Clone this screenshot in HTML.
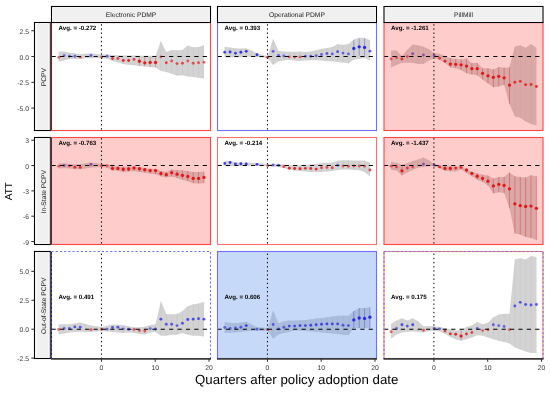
<!DOCTYPE html>
<html><head><meta charset="utf-8"><title>ATT event study</title><style>html,body{margin:0;padding:0;background:#fff;}svg{display:block;}</style></head><body>
<svg width="550" height="393" viewBox="0 0 550 393" text-rendering="geometricPrecision">
<rect x="0" y="0" width="550" height="393" fill="#FFFFFF"/>
<g>
<rect x="51.5" y="22.5" width="159.0" height="108.0" fill="#FFFFFF"/>
<polygon points="58.73,51.60 64.10,51.60 69.48,52.70 74.86,53.20 80.24,54.20 85.62,53.70 90.99,53.20 96.37,54.00 101.75,54.70 107.13,54.20 112.51,55.00 117.88,55.30 123.26,55.50 128.64,55.50 134.02,55.60 139.40,55.70 144.77,55.80 150.15,55.80 155.53,55.80 160.91,41.00 166.29,51.90 171.66,50.00 177.04,50.30 182.42,50.00 187.80,45.60 193.18,47.20 198.55,46.90 203.93,45.20 203.93,78.50 198.55,77.70 193.18,76.90 187.80,76.60 182.42,75.30 177.04,75.70 171.66,73.80 166.29,71.90 160.91,71.00 155.53,67.50 150.15,67.00 144.77,66.60 139.40,66.00 134.02,65.30 128.64,64.70 123.26,64.00 117.88,62.50 112.51,61.00 107.13,58.80 101.75,58.30 96.37,58.30 90.99,58.30 85.62,58.30 80.24,58.80 74.86,59.10 69.48,59.30 64.10,60.30 58.73,61.80" fill="rgba(110,110,110,0.30)"/>
<line x1="58.73" y1="51.60" x2="58.73" y2="61.80" stroke="rgba(0,0,0,0.035)" stroke-width="1"/>
<line x1="64.10" y1="51.60" x2="64.10" y2="60.30" stroke="rgba(0,0,0,0.035)" stroke-width="1"/>
<line x1="69.48" y1="52.70" x2="69.48" y2="59.30" stroke="rgba(0,0,0,0.035)" stroke-width="1"/>
<line x1="74.86" y1="53.20" x2="74.86" y2="59.10" stroke="rgba(0,0,0,0.035)" stroke-width="1"/>
<line x1="80.24" y1="54.20" x2="80.24" y2="58.80" stroke="rgba(0,0,0,0.035)" stroke-width="1"/>
<line x1="85.62" y1="53.70" x2="85.62" y2="58.30" stroke="rgba(0,0,0,0.035)" stroke-width="1"/>
<line x1="90.99" y1="53.20" x2="90.99" y2="58.30" stroke="rgba(0,0,0,0.035)" stroke-width="1"/>
<line x1="96.37" y1="54.00" x2="96.37" y2="58.30" stroke="rgba(0,0,0,0.035)" stroke-width="1"/>
<line x1="101.75" y1="54.70" x2="101.75" y2="58.30" stroke="rgba(0,0,0,0.035)" stroke-width="1"/>
<line x1="107.13" y1="54.20" x2="107.13" y2="58.80" stroke="rgba(0,0,0,0.035)" stroke-width="1"/>
<line x1="112.51" y1="55.00" x2="112.51" y2="61.00" stroke="rgba(0,0,0,0.035)" stroke-width="1"/>
<line x1="117.88" y1="55.30" x2="117.88" y2="62.50" stroke="rgba(0,0,0,0.035)" stroke-width="1"/>
<line x1="123.26" y1="55.50" x2="123.26" y2="64.00" stroke="rgba(0,0,0,0.035)" stroke-width="1"/>
<line x1="128.64" y1="55.50" x2="128.64" y2="64.70" stroke="rgba(0,0,0,0.035)" stroke-width="1"/>
<line x1="134.02" y1="55.60" x2="134.02" y2="65.30" stroke="rgba(0,0,0,0.035)" stroke-width="1"/>
<line x1="139.40" y1="55.70" x2="139.40" y2="66.00" stroke="rgba(0,0,0,0.035)" stroke-width="1"/>
<line x1="144.77" y1="55.80" x2="144.77" y2="66.60" stroke="rgba(0,0,0,0.035)" stroke-width="1"/>
<line x1="150.15" y1="55.80" x2="150.15" y2="67.00" stroke="rgba(0,0,0,0.035)" stroke-width="1"/>
<line x1="155.53" y1="55.80" x2="155.53" y2="67.50" stroke="rgba(0,0,0,0.035)" stroke-width="1"/>
<line x1="160.91" y1="41.00" x2="160.91" y2="71.00" stroke="rgba(0,0,0,0.035)" stroke-width="1"/>
<line x1="166.29" y1="51.90" x2="166.29" y2="71.90" stroke="rgba(0,0,0,0.035)" stroke-width="1"/>
<line x1="171.66" y1="50.00" x2="171.66" y2="73.80" stroke="rgba(0,0,0,0.035)" stroke-width="1"/>
<line x1="177.04" y1="50.30" x2="177.04" y2="75.70" stroke="rgba(0,0,0,0.035)" stroke-width="1"/>
<line x1="182.42" y1="50.00" x2="182.42" y2="75.30" stroke="rgba(0,0,0,0.035)" stroke-width="1"/>
<line x1="187.80" y1="45.60" x2="187.80" y2="76.60" stroke="rgba(0,0,0,0.035)" stroke-width="1"/>
<line x1="193.18" y1="47.20" x2="193.18" y2="76.90" stroke="rgba(0,0,0,0.035)" stroke-width="1"/>
<line x1="198.55" y1="46.90" x2="198.55" y2="77.70" stroke="rgba(0,0,0,0.035)" stroke-width="1"/>
<line x1="203.93" y1="45.20" x2="203.93" y2="78.50" stroke="rgba(0,0,0,0.035)" stroke-width="1"/>
<line x1="139.40" y1="57.30" x2="139.40" y2="65.52" stroke="rgba(228,26,28,0.35)" stroke-width="0.9"/>
<line x1="144.77" y1="57.30" x2="144.77" y2="66.22" stroke="rgba(228,26,28,0.35)" stroke-width="0.9"/>
<line x1="150.15" y1="57.30" x2="150.15" y2="66.54" stroke="rgba(228,26,28,0.35)" stroke-width="0.9"/>
<line x1="155.53" y1="57.30" x2="155.53" y2="67.00" stroke="rgba(228,26,28,0.35)" stroke-width="0.9"/>
<circle cx="58.73" cy="57.53" r="1.45" fill="rgb(228,26,28)" fill-opacity="0.62"/>
<circle cx="64.10" cy="55.67" r="1.45" fill="rgb(40,40,230)" fill-opacity="0.62"/>
<circle cx="69.48" cy="56.19" r="1.45" fill="rgb(40,40,230)" fill-opacity="0.62"/>
<circle cx="74.86" cy="56.29" r="1.45" fill="rgb(40,40,230)" fill-opacity="0.62"/>
<circle cx="80.24" cy="57.33" r="1.45" fill="rgb(228,26,28)" fill-opacity="0.6615304347826092"/>
<circle cx="90.99" cy="55.57" r="1.45" fill="rgb(40,40,230)" fill-opacity="0.6639058823529418"/>
<circle cx="101.75" cy="56.91" r="1.45" fill="rgb(228,26,28)" fill-opacity="0.62"/>
<circle cx="107.13" cy="56.29" r="1.45" fill="rgb(40,40,230)" fill-opacity="0.62"/>
<circle cx="112.51" cy="58.56" r="1.45" fill="rgb(228,26,28)" fill-opacity="0.8096000000000001"/>
<circle cx="117.88" cy="58.56" r="1.45" fill="rgb(228,26,28)" fill-opacity="0.7579999999999999"/>
<circle cx="123.26" cy="60.52" r="1.45" fill="rgb(228,26,28)" fill-opacity="0.92"/>
<circle cx="128.64" cy="60.52" r="1.45" fill="rgb(228,26,28)" fill-opacity="0.8937304347826085"/>
<circle cx="134.02" cy="59.39" r="1.45" fill="rgb(228,26,28)" fill-opacity="0.7681072164948457"/>
<circle cx="139.40" cy="61.25" r="1.65" fill="rgb(228,26,28)" fill-opacity="1.0"/>
<circle cx="144.77" cy="62.80" r="1.65" fill="rgb(228,26,28)" fill-opacity="1.0"/>
<circle cx="150.15" cy="62.38" r="1.65" fill="rgb(228,26,28)" fill-opacity="1.0"/>
<circle cx="155.53" cy="62.49" r="1.65" fill="rgb(228,26,28)" fill-opacity="1.0"/>
<circle cx="160.91" cy="56.91" r="1.45" fill="rgb(228,26,28)" fill-opacity="0.62"/>
<circle cx="166.29" cy="62.69" r="1.45" fill="rgb(228,26,28)" fill-opacity="0.7786399999999999"/>
<circle cx="171.66" cy="60.94" r="1.45" fill="rgb(228,26,28)" fill-opacity="0.6678084033613447"/>
<circle cx="177.04" cy="63.62" r="1.45" fill="rgb(228,26,28)" fill-opacity="0.7523118110236221"/>
<circle cx="182.42" cy="63.31" r="1.45" fill="rgb(228,26,28)" fill-opacity="0.742295652173913"/>
<circle cx="187.80" cy="60.94" r="1.45" fill="rgb(228,26,28)" fill-opacity="0.6288335483870969"/>
<circle cx="193.18" cy="63.21" r="1.45" fill="rgb(228,26,28)" fill-opacity="0.7032727272727273"/>
<circle cx="198.55" cy="62.69" r="1.45" fill="rgb(228,26,28)" fill-opacity="0.680935064935065"/>
<circle cx="203.93" cy="62.18" r="1.45" fill="rgb(228,26,28)" fill-opacity="0.6534054054054055"/>
<line x1="101.45" y1="22.5" x2="101.45" y2="130.5" stroke="#000" stroke-width="1.0" stroke-dasharray="1.4 2.76" stroke-dashoffset="2.46"/>
<line x1="51.5" y1="56.5" x2="210.5" y2="56.5" stroke="#000" stroke-width="1.1" stroke-dasharray="4.2 4.2"/>
<rect x="51.5" y="22.5" width="159.0" height="108.0" fill="none" stroke="#FF4646" stroke-width="1.1"/>
<text x="58.5" y="30.2" font-family="'Liberation Sans', Arial, Helvetica, sans-serif" font-weight="bold" font-size="6.2" fill="#000">Avg. = -0.272</text>
</g>
<g>
<rect x="217.5" y="22.5" width="159.0" height="108.0" fill="#FFFFFF"/>
<polygon points="224.73,46.70 230.10,47.50 235.48,48.20 240.86,48.60 246.24,48.20 251.62,50.40 256.99,53.30 262.37,55.00 267.75,55.90 273.13,38.70 278.51,51.10 283.88,51.50 289.26,51.80 294.64,51.70 300.02,51.60 305.40,51.90 310.77,51.60 316.15,50.30 321.53,48.80 326.91,48.00 332.29,46.90 337.66,44.10 343.04,44.90 348.42,44.10 353.80,39.40 359.18,37.80 364.55,37.80 369.93,40.20 369.93,60.50 364.55,58.10 359.18,58.90 353.80,59.70 348.42,63.60 343.04,62.50 337.66,62.00 332.29,61.30 326.91,61.30 321.53,60.50 316.15,60.20 310.77,60.20 305.40,60.50 300.02,61.00 294.64,60.50 289.26,59.80 283.88,60.50 278.51,61.30 273.13,64.90 267.75,58.40 262.37,57.60 256.99,56.90 251.62,56.90 246.24,56.50 240.86,57.30 235.48,57.30 230.10,57.60 224.73,57.60" fill="rgba(110,110,110,0.30)"/>
<line x1="224.73" y1="46.70" x2="224.73" y2="57.60" stroke="rgba(0,0,0,0.035)" stroke-width="1"/>
<line x1="230.10" y1="47.50" x2="230.10" y2="57.60" stroke="rgba(0,0,0,0.035)" stroke-width="1"/>
<line x1="235.48" y1="48.20" x2="235.48" y2="57.30" stroke="rgba(0,0,0,0.035)" stroke-width="1"/>
<line x1="240.86" y1="48.60" x2="240.86" y2="57.30" stroke="rgba(0,0,0,0.035)" stroke-width="1"/>
<line x1="246.24" y1="48.20" x2="246.24" y2="56.50" stroke="rgba(0,0,0,0.035)" stroke-width="1"/>
<line x1="251.62" y1="50.40" x2="251.62" y2="56.90" stroke="rgba(0,0,0,0.035)" stroke-width="1"/>
<line x1="256.99" y1="53.30" x2="256.99" y2="56.90" stroke="rgba(0,0,0,0.035)" stroke-width="1"/>
<line x1="262.37" y1="55.00" x2="262.37" y2="57.60" stroke="rgba(0,0,0,0.035)" stroke-width="1"/>
<line x1="267.75" y1="55.90" x2="267.75" y2="58.40" stroke="rgba(0,0,0,0.035)" stroke-width="1"/>
<line x1="273.13" y1="38.70" x2="273.13" y2="64.90" stroke="rgba(0,0,0,0.035)" stroke-width="1"/>
<line x1="278.51" y1="51.10" x2="278.51" y2="61.30" stroke="rgba(0,0,0,0.035)" stroke-width="1"/>
<line x1="283.88" y1="51.50" x2="283.88" y2="60.50" stroke="rgba(0,0,0,0.035)" stroke-width="1"/>
<line x1="289.26" y1="51.80" x2="289.26" y2="59.80" stroke="rgba(0,0,0,0.035)" stroke-width="1"/>
<line x1="294.64" y1="51.70" x2="294.64" y2="60.50" stroke="rgba(0,0,0,0.035)" stroke-width="1"/>
<line x1="300.02" y1="51.60" x2="300.02" y2="61.00" stroke="rgba(0,0,0,0.035)" stroke-width="1"/>
<line x1="305.40" y1="51.90" x2="305.40" y2="60.50" stroke="rgba(0,0,0,0.035)" stroke-width="1"/>
<line x1="310.77" y1="51.60" x2="310.77" y2="60.20" stroke="rgba(0,0,0,0.035)" stroke-width="1"/>
<line x1="316.15" y1="50.30" x2="316.15" y2="60.20" stroke="rgba(0,0,0,0.035)" stroke-width="1"/>
<line x1="321.53" y1="48.80" x2="321.53" y2="60.50" stroke="rgba(0,0,0,0.035)" stroke-width="1"/>
<line x1="326.91" y1="48.00" x2="326.91" y2="61.30" stroke="rgba(0,0,0,0.035)" stroke-width="1"/>
<line x1="332.29" y1="46.90" x2="332.29" y2="61.30" stroke="rgba(0,0,0,0.035)" stroke-width="1"/>
<line x1="337.66" y1="44.10" x2="337.66" y2="62.00" stroke="rgba(0,0,0,0.035)" stroke-width="1"/>
<line x1="343.04" y1="44.90" x2="343.04" y2="62.50" stroke="rgba(0,0,0,0.035)" stroke-width="1"/>
<line x1="348.42" y1="44.10" x2="348.42" y2="63.60" stroke="rgba(0,0,0,0.035)" stroke-width="1"/>
<line x1="353.80" y1="39.40" x2="353.80" y2="59.70" stroke="rgba(0,0,0,0.035)" stroke-width="1"/>
<line x1="359.18" y1="37.80" x2="359.18" y2="58.90" stroke="rgba(0,0,0,0.035)" stroke-width="1"/>
<line x1="364.55" y1="37.80" x2="364.55" y2="58.10" stroke="rgba(0,0,0,0.035)" stroke-width="1"/>
<line x1="369.93" y1="40.20" x2="369.93" y2="60.50" stroke="rgba(0,0,0,0.035)" stroke-width="1"/>
<line x1="353.80" y1="40.31" x2="353.80" y2="55.70" stroke="rgba(40,40,230,0.35)" stroke-width="0.9"/>
<line x1="359.18" y1="38.70" x2="359.18" y2="55.70" stroke="rgba(40,40,230,0.35)" stroke-width="0.9"/>
<line x1="364.55" y1="38.76" x2="364.55" y2="55.70" stroke="rgba(40,40,230,0.35)" stroke-width="0.9"/>
<circle cx="224.73" cy="52.27" r="1.45" fill="rgb(40,40,230)" fill-opacity="0.8493651376146791"/>
<circle cx="230.10" cy="52.06" r="1.45" fill="rgb(40,40,230)" fill-opacity="0.8954297029702973"/>
<circle cx="235.48" cy="53.30" r="1.45" fill="rgb(40,40,230)" fill-opacity="0.8164043956043956"/>
<circle cx="240.86" cy="52.27" r="1.45" fill="rgb(40,40,230)" fill-opacity="0.92"/>
<circle cx="246.24" cy="51.34" r="1.45" fill="rgb(40,40,230)" fill-opacity="0.92"/>
<circle cx="256.99" cy="54.75" r="1.45" fill="rgb(40,40,230)" fill-opacity="0.92"/>
<circle cx="267.75" cy="57.22" r="1.45" fill="rgb(228,26,28)" fill-opacity="0.7600640000000001"/>
<circle cx="273.13" cy="51.34" r="1.45" fill="rgb(40,40,230)" fill-opacity="0.6772519083969464"/>
<circle cx="278.51" cy="55.47" r="1.45" fill="rgb(40,40,230)" fill-opacity="0.62"/>
<circle cx="283.88" cy="55.88" r="1.45" fill="rgb(40,40,230)" fill-opacity="0.62"/>
<circle cx="289.26" cy="56.91" r="1.45" fill="rgb(228,26,28)" fill-opacity="0.62"/>
<circle cx="294.64" cy="57.12" r="1.45" fill="rgb(228,26,28)" fill-opacity="0.62"/>
<circle cx="300.02" cy="56.91" r="1.45" fill="rgb(228,26,28)" fill-opacity="0.62"/>
<circle cx="305.40" cy="56.29" r="1.45" fill="rgb(40,40,230)" fill-opacity="0.62"/>
<circle cx="310.77" cy="56.29" r="1.45" fill="rgb(40,40,230)" fill-opacity="0.62"/>
<circle cx="316.15" cy="55.78" r="1.45" fill="rgb(40,40,230)" fill-opacity="0.62"/>
<circle cx="321.53" cy="54.54" r="1.45" fill="rgb(40,40,230)" fill-opacity="0.6508307692307691"/>
<circle cx="326.91" cy="53.51" r="1.45" fill="rgb(40,40,230)" fill-opacity="0.7025203007518799"/>
<circle cx="332.29" cy="53.92" r="1.45" fill="rgb(40,40,230)" fill-opacity="0.6612499999999999"/>
<circle cx="337.66" cy="51.65" r="1.45" fill="rgb(40,40,230)" fill-opacity="0.7438748603351956"/>
<circle cx="343.04" cy="53.09" r="1.45" fill="rgb(40,40,230)" fill-opacity="0.67415"/>
<circle cx="348.42" cy="53.92" r="1.45" fill="rgb(40,40,230)" fill-opacity="0.62"/>
<circle cx="353.80" cy="48.45" r="1.65" fill="rgb(40,40,230)" fill-opacity="1.0"/>
<circle cx="359.18" cy="46.80" r="1.65" fill="rgb(40,40,230)" fill-opacity="1.0"/>
<circle cx="364.55" cy="47.42" r="1.65" fill="rgb(40,40,230)" fill-opacity="1.0"/>
<circle cx="369.93" cy="51.13" r="1.45" fill="rgb(40,40,230)" fill-opacity="0.7379192118226601"/>
<line x1="267.45" y1="22.5" x2="267.45" y2="130.5" stroke="#000" stroke-width="1.0" stroke-dasharray="1.4 2.76" stroke-dashoffset="2.46"/>
<line x1="217.5" y1="56.5" x2="376.5" y2="56.5" stroke="#000" stroke-width="1.1" stroke-dasharray="4.2 4.2"/>
<rect x="217.5" y="22.5" width="159.0" height="108.0" fill="none" stroke="#7070FF" stroke-width="1.1"/>
<text x="224.5" y="30.2" font-family="'Liberation Sans', Arial, Helvetica, sans-serif" font-weight="bold" font-size="6.2" fill="#000">Avg. = 0.393</text>
</g>
<g>
<rect x="384.0" y="22.5" width="159.0" height="108.0" fill="#FFFFFF"/>
<polygon points="391.18,50.60 396.55,50.60 401.93,56.00 407.31,49.80 412.69,44.50 418.07,45.30 423.44,46.80 428.82,49.10 434.20,52.90 439.58,53.70 444.96,56.00 450.33,58.20 455.71,59.00 461.09,59.50 466.47,58.50 471.85,63.10 477.22,63.10 482.60,68.20 487.98,68.20 493.36,69.40 498.74,66.90 504.11,67.70 509.49,67.30 514.87,46.50 520.25,45.30 525.63,47.80 531.00,44.00 536.38,47.80 536.38,125.40 531.00,124.10 525.63,121.60 520.25,117.80 514.87,116.50 509.49,104.00 504.11,84.70 498.74,86.50 493.36,87.30 487.98,83.40 482.60,79.60 477.22,75.30 471.85,74.50 466.47,73.30 461.09,70.00 455.71,68.20 450.33,67.40 444.96,62.80 439.58,59.80 434.20,58.20 428.82,60.50 423.44,63.90 418.07,63.90 412.69,62.80 407.31,62.80 401.93,62.80 396.55,65.10 391.18,67.40" fill="rgba(110,110,110,0.30)"/>
<line x1="391.18" y1="50.60" x2="391.18" y2="67.40" stroke="rgba(0,0,0,0.035)" stroke-width="1"/>
<line x1="396.55" y1="50.60" x2="396.55" y2="65.10" stroke="rgba(0,0,0,0.035)" stroke-width="1"/>
<line x1="401.93" y1="56.00" x2="401.93" y2="62.80" stroke="rgba(0,0,0,0.035)" stroke-width="1"/>
<line x1="407.31" y1="49.80" x2="407.31" y2="62.80" stroke="rgba(0,0,0,0.035)" stroke-width="1"/>
<line x1="412.69" y1="44.50" x2="412.69" y2="62.80" stroke="rgba(0,0,0,0.035)" stroke-width="1"/>
<line x1="418.07" y1="45.30" x2="418.07" y2="63.90" stroke="rgba(0,0,0,0.035)" stroke-width="1"/>
<line x1="423.44" y1="46.80" x2="423.44" y2="63.90" stroke="rgba(0,0,0,0.035)" stroke-width="1"/>
<line x1="428.82" y1="49.10" x2="428.82" y2="60.50" stroke="rgba(0,0,0,0.035)" stroke-width="1"/>
<line x1="434.20" y1="52.90" x2="434.20" y2="58.20" stroke="rgba(0,0,0,0.035)" stroke-width="1"/>
<line x1="439.58" y1="53.70" x2="439.58" y2="59.80" stroke="rgba(0,0,0,0.035)" stroke-width="1"/>
<line x1="444.96" y1="56.00" x2="444.96" y2="62.80" stroke="rgba(0,0,0,0.035)" stroke-width="1"/>
<line x1="450.33" y1="58.20" x2="450.33" y2="67.40" stroke="rgba(0,0,0,0.035)" stroke-width="1"/>
<line x1="455.71" y1="59.00" x2="455.71" y2="68.20" stroke="rgba(0,0,0,0.035)" stroke-width="1"/>
<line x1="461.09" y1="59.50" x2="461.09" y2="70.00" stroke="rgba(0,0,0,0.035)" stroke-width="1"/>
<line x1="466.47" y1="58.50" x2="466.47" y2="73.30" stroke="rgba(0,0,0,0.035)" stroke-width="1"/>
<line x1="471.85" y1="63.10" x2="471.85" y2="74.50" stroke="rgba(0,0,0,0.035)" stroke-width="1"/>
<line x1="477.22" y1="63.10" x2="477.22" y2="75.30" stroke="rgba(0,0,0,0.035)" stroke-width="1"/>
<line x1="482.60" y1="68.20" x2="482.60" y2="79.60" stroke="rgba(0,0,0,0.035)" stroke-width="1"/>
<line x1="487.98" y1="68.20" x2="487.98" y2="83.40" stroke="rgba(0,0,0,0.035)" stroke-width="1"/>
<line x1="493.36" y1="69.40" x2="493.36" y2="87.30" stroke="rgba(0,0,0,0.035)" stroke-width="1"/>
<line x1="498.74" y1="66.90" x2="498.74" y2="86.50" stroke="rgba(0,0,0,0.035)" stroke-width="1"/>
<line x1="504.11" y1="67.70" x2="504.11" y2="84.70" stroke="rgba(0,0,0,0.035)" stroke-width="1"/>
<line x1="509.49" y1="67.30" x2="509.49" y2="104.00" stroke="rgba(0,0,0,0.035)" stroke-width="1"/>
<line x1="514.87" y1="46.50" x2="514.87" y2="116.50" stroke="rgba(0,0,0,0.035)" stroke-width="1"/>
<line x1="520.25" y1="45.30" x2="520.25" y2="117.80" stroke="rgba(0,0,0,0.035)" stroke-width="1"/>
<line x1="525.63" y1="47.80" x2="525.63" y2="121.60" stroke="rgba(0,0,0,0.035)" stroke-width="1"/>
<line x1="531.00" y1="44.00" x2="531.00" y2="124.10" stroke="rgba(0,0,0,0.035)" stroke-width="1"/>
<line x1="536.38" y1="47.80" x2="536.38" y2="125.40" stroke="rgba(0,0,0,0.035)" stroke-width="1"/>
<line x1="450.33" y1="58.20" x2="450.33" y2="67.40" stroke="rgba(228,26,28,0.35)" stroke-width="0.9"/>
<line x1="455.71" y1="59.00" x2="455.71" y2="68.20" stroke="rgba(228,26,28,0.35)" stroke-width="0.9"/>
<line x1="461.09" y1="59.50" x2="461.09" y2="70.00" stroke="rgba(228,26,28,0.35)" stroke-width="0.9"/>
<line x1="466.47" y1="58.50" x2="466.47" y2="73.30" stroke="rgba(228,26,28,0.35)" stroke-width="0.9"/>
<line x1="471.85" y1="63.10" x2="471.85" y2="74.50" stroke="rgba(228,26,28,0.35)" stroke-width="0.9"/>
<line x1="477.22" y1="63.10" x2="477.22" y2="75.30" stroke="rgba(228,26,28,0.35)" stroke-width="0.9"/>
<line x1="482.60" y1="68.20" x2="482.60" y2="79.60" stroke="rgba(228,26,28,0.35)" stroke-width="0.9"/>
<line x1="487.98" y1="68.20" x2="487.98" y2="83.40" stroke="rgba(228,26,28,0.35)" stroke-width="0.9"/>
<line x1="493.36" y1="69.40" x2="493.36" y2="87.30" stroke="rgba(228,26,28,0.35)" stroke-width="0.9"/>
<line x1="498.74" y1="66.90" x2="498.74" y2="86.50" stroke="rgba(228,26,28,0.35)" stroke-width="0.9"/>
<line x1="504.11" y1="67.70" x2="504.11" y2="84.70" stroke="rgba(228,26,28,0.35)" stroke-width="0.9"/>
<line x1="509.49" y1="67.30" x2="509.49" y2="104.00" stroke="rgba(228,26,28,0.35)" stroke-width="0.9"/>
<circle cx="391.18" cy="58.98" r="1.45" fill="rgb(228,26,28)" fill-opacity="0.6326857142857141"/>
<circle cx="396.55" cy="57.53" r="1.45" fill="rgb(228,26,28)" fill-opacity="0.62"/>
<circle cx="401.93" cy="58.98" r="1.45" fill="rgb(228,26,28)" fill-opacity="0.8278117647058821"/>
<circle cx="407.31" cy="56.60" r="1.45" fill="rgb(228,26,28)" fill-opacity="0.62"/>
<circle cx="412.69" cy="53.71" r="1.45" fill="rgb(40,40,230)" fill-opacity="0.6370360655737706"/>
<circle cx="423.44" cy="54.95" r="1.45" fill="rgb(40,40,230)" fill-opacity="0.62"/>
<circle cx="434.20" cy="55.67" r="1.45" fill="rgb(40,40,230)" fill-opacity="0.6401962264150944"/>
<circle cx="439.58" cy="58.25" r="1.45" fill="rgb(228,26,28)" fill-opacity="0.7588459016393441"/>
<circle cx="444.96" cy="61.14" r="1.45" fill="rgb(228,26,28)" fill-opacity="0.92"/>
<circle cx="450.33" cy="64.03" r="1.65" fill="rgb(228,26,28)" fill-opacity="1.0"/>
<circle cx="455.71" cy="64.34" r="1.65" fill="rgb(228,26,28)" fill-opacity="1.0"/>
<circle cx="461.09" cy="64.86" r="1.65" fill="rgb(228,26,28)" fill-opacity="1.0"/>
<circle cx="466.47" cy="66.10" r="1.65" fill="rgb(228,26,28)" fill-opacity="1.0"/>
<circle cx="471.85" cy="68.68" r="1.65" fill="rgb(228,26,28)" fill-opacity="1.0"/>
<circle cx="477.22" cy="68.68" r="1.65" fill="rgb(228,26,28)" fill-opacity="1.0"/>
<circle cx="482.60" cy="73.32" r="1.65" fill="rgb(228,26,28)" fill-opacity="1.0"/>
<circle cx="487.98" cy="75.80" r="1.65" fill="rgb(228,26,28)" fill-opacity="1.0"/>
<circle cx="493.36" cy="77.35" r="1.65" fill="rgb(228,26,28)" fill-opacity="1.0"/>
<circle cx="498.74" cy="76.31" r="1.65" fill="rgb(228,26,28)" fill-opacity="1.0"/>
<circle cx="504.11" cy="77.86" r="1.65" fill="rgb(228,26,28)" fill-opacity="1.0"/>
<circle cx="509.49" cy="85.09" r="1.65" fill="rgb(228,26,28)" fill-opacity="1.0"/>
<circle cx="514.87" cy="82.30" r="1.45" fill="rgb(228,26,28)" fill-opacity="0.8317142857142856"/>
<circle cx="520.25" cy="81.37" r="1.45" fill="rgb(228,26,28)" fill-opacity="0.8087459310344828"/>
<circle cx="525.63" cy="84.67" r="1.45" fill="rgb(228,26,28)" fill-opacity="0.843580487804878"/>
<circle cx="531.00" cy="84.47" r="1.45" fill="rgb(228,26,28)" fill-opacity="0.814238202247191"/>
<circle cx="536.38" cy="86.43" r="1.45" fill="rgb(228,26,28)" fill-opacity="0.847103092783505"/>
<rect x="384.0" y="22.5" width="159.0" height="108.0" fill="rgb(255,0,0)" fill-opacity="0.2"/>
<line x1="433.9" y1="22.5" x2="433.9" y2="130.5" stroke="#000" stroke-width="1.0" stroke-dasharray="1.4 2.76" stroke-dashoffset="2.46"/>
<line x1="384.0" y1="56.5" x2="543.0" y2="56.5" stroke="#000" stroke-width="1.1" stroke-dasharray="4.2 4.2"/>
<rect x="384.0" y="22.5" width="159.0" height="108.0" fill="none" stroke="#FF4646" stroke-width="1.1"/>
<text x="391.0" y="30.2" font-family="'Liberation Sans', Arial, Helvetica, sans-serif" font-weight="bold" font-size="6.2" fill="#000">Avg. = -1.261</text>
</g>
<g>
<rect x="51.5" y="137.5" width="159.0" height="107.0" fill="#FFFFFF"/>
<polygon points="58.73,163.20 64.10,163.20 69.48,164.00 74.86,164.30 80.24,164.00 85.62,163.20 90.99,162.40 96.37,163.20 101.75,164.00 107.13,164.30 112.51,166.20 117.88,166.20 123.26,166.70 128.64,166.60 134.02,166.40 139.40,167.20 144.77,168.00 150.15,168.80 155.53,168.80 160.91,171.10 166.29,171.90 171.66,169.50 177.04,170.30 182.42,170.30 187.80,171.10 193.18,171.90 198.55,171.90 203.93,171.60 203.93,183.20 198.55,183.60 193.18,183.20 187.80,181.30 182.42,179.70 177.04,178.10 171.66,176.60 166.29,177.40 160.91,176.30 155.53,174.20 150.15,173.50 144.77,172.70 139.40,171.90 134.02,171.10 128.64,171.60 123.26,171.90 117.88,170.80 112.51,170.40 107.13,167.80 101.75,167.30 96.37,167.30 90.99,167.80 85.62,168.50 80.24,169.30 74.86,169.30 69.48,168.50 64.10,168.30 58.73,168.50" fill="rgba(110,110,110,0.30)"/>
<line x1="58.73" y1="163.20" x2="58.73" y2="168.50" stroke="rgba(0,0,0,0.035)" stroke-width="1"/>
<line x1="64.10" y1="163.20" x2="64.10" y2="168.30" stroke="rgba(0,0,0,0.035)" stroke-width="1"/>
<line x1="69.48" y1="164.00" x2="69.48" y2="168.50" stroke="rgba(0,0,0,0.035)" stroke-width="1"/>
<line x1="74.86" y1="164.30" x2="74.86" y2="169.30" stroke="rgba(0,0,0,0.035)" stroke-width="1"/>
<line x1="80.24" y1="164.00" x2="80.24" y2="169.30" stroke="rgba(0,0,0,0.035)" stroke-width="1"/>
<line x1="85.62" y1="163.20" x2="85.62" y2="168.50" stroke="rgba(0,0,0,0.035)" stroke-width="1"/>
<line x1="90.99" y1="162.40" x2="90.99" y2="167.80" stroke="rgba(0,0,0,0.035)" stroke-width="1"/>
<line x1="96.37" y1="163.20" x2="96.37" y2="167.30" stroke="rgba(0,0,0,0.035)" stroke-width="1"/>
<line x1="101.75" y1="164.00" x2="101.75" y2="167.30" stroke="rgba(0,0,0,0.035)" stroke-width="1"/>
<line x1="107.13" y1="164.30" x2="107.13" y2="167.80" stroke="rgba(0,0,0,0.035)" stroke-width="1"/>
<line x1="112.51" y1="166.20" x2="112.51" y2="170.40" stroke="rgba(0,0,0,0.035)" stroke-width="1"/>
<line x1="117.88" y1="166.20" x2="117.88" y2="170.80" stroke="rgba(0,0,0,0.035)" stroke-width="1"/>
<line x1="123.26" y1="166.70" x2="123.26" y2="171.90" stroke="rgba(0,0,0,0.035)" stroke-width="1"/>
<line x1="128.64" y1="166.60" x2="128.64" y2="171.60" stroke="rgba(0,0,0,0.035)" stroke-width="1"/>
<line x1="134.02" y1="166.40" x2="134.02" y2="171.10" stroke="rgba(0,0,0,0.035)" stroke-width="1"/>
<line x1="139.40" y1="167.20" x2="139.40" y2="171.90" stroke="rgba(0,0,0,0.035)" stroke-width="1"/>
<line x1="144.77" y1="168.00" x2="144.77" y2="172.70" stroke="rgba(0,0,0,0.035)" stroke-width="1"/>
<line x1="150.15" y1="168.80" x2="150.15" y2="173.50" stroke="rgba(0,0,0,0.035)" stroke-width="1"/>
<line x1="155.53" y1="168.80" x2="155.53" y2="174.20" stroke="rgba(0,0,0,0.035)" stroke-width="1"/>
<line x1="160.91" y1="171.10" x2="160.91" y2="176.30" stroke="rgba(0,0,0,0.035)" stroke-width="1"/>
<line x1="166.29" y1="171.90" x2="166.29" y2="177.40" stroke="rgba(0,0,0,0.035)" stroke-width="1"/>
<line x1="171.66" y1="169.50" x2="171.66" y2="176.60" stroke="rgba(0,0,0,0.035)" stroke-width="1"/>
<line x1="177.04" y1="170.30" x2="177.04" y2="178.10" stroke="rgba(0,0,0,0.035)" stroke-width="1"/>
<line x1="182.42" y1="170.30" x2="182.42" y2="179.70" stroke="rgba(0,0,0,0.035)" stroke-width="1"/>
<line x1="187.80" y1="171.10" x2="187.80" y2="181.30" stroke="rgba(0,0,0,0.035)" stroke-width="1"/>
<line x1="193.18" y1="171.90" x2="193.18" y2="183.20" stroke="rgba(0,0,0,0.035)" stroke-width="1"/>
<line x1="198.55" y1="171.90" x2="198.55" y2="183.60" stroke="rgba(0,0,0,0.035)" stroke-width="1"/>
<line x1="203.93" y1="171.60" x2="203.93" y2="183.20" stroke="rgba(0,0,0,0.035)" stroke-width="1"/>
<line x1="112.51" y1="166.35" x2="112.51" y2="170.40" stroke="rgba(228,26,28,0.35)" stroke-width="0.9"/>
<line x1="117.88" y1="166.35" x2="117.88" y2="170.80" stroke="rgba(228,26,28,0.35)" stroke-width="0.9"/>
<line x1="123.26" y1="166.70" x2="123.26" y2="171.90" stroke="rgba(228,26,28,0.35)" stroke-width="0.9"/>
<line x1="128.64" y1="166.60" x2="128.64" y2="171.60" stroke="rgba(228,26,28,0.35)" stroke-width="0.9"/>
<line x1="134.02" y1="166.40" x2="134.02" y2="171.10" stroke="rgba(228,26,28,0.35)" stroke-width="0.9"/>
<line x1="139.40" y1="167.20" x2="139.40" y2="171.90" stroke="rgba(228,26,28,0.35)" stroke-width="0.9"/>
<line x1="144.77" y1="168.00" x2="144.77" y2="172.70" stroke="rgba(228,26,28,0.35)" stroke-width="0.9"/>
<line x1="150.15" y1="168.80" x2="150.15" y2="173.50" stroke="rgba(228,26,28,0.35)" stroke-width="0.9"/>
<line x1="155.53" y1="168.80" x2="155.53" y2="174.20" stroke="rgba(228,26,28,0.35)" stroke-width="0.9"/>
<line x1="160.91" y1="171.10" x2="160.91" y2="176.30" stroke="rgba(228,26,28,0.35)" stroke-width="0.9"/>
<line x1="166.29" y1="171.90" x2="166.29" y2="177.40" stroke="rgba(228,26,28,0.35)" stroke-width="0.9"/>
<line x1="171.66" y1="169.50" x2="171.66" y2="176.60" stroke="rgba(228,26,28,0.35)" stroke-width="0.9"/>
<line x1="177.04" y1="170.30" x2="177.04" y2="178.10" stroke="rgba(228,26,28,0.35)" stroke-width="0.9"/>
<line x1="182.42" y1="170.30" x2="182.42" y2="179.70" stroke="rgba(228,26,28,0.35)" stroke-width="0.9"/>
<line x1="187.80" y1="171.10" x2="187.80" y2="181.30" stroke="rgba(228,26,28,0.35)" stroke-width="0.9"/>
<line x1="193.18" y1="171.90" x2="193.18" y2="183.20" stroke="rgba(228,26,28,0.35)" stroke-width="0.9"/>
<line x1="198.55" y1="171.90" x2="198.55" y2="183.60" stroke="rgba(228,26,28,0.35)" stroke-width="0.9"/>
<line x1="203.93" y1="171.60" x2="203.93" y2="183.20" stroke="rgba(228,26,28,0.35)" stroke-width="0.9"/>
<circle cx="58.73" cy="166.14" r="1.45" fill="rgb(228,26,28)" fill-opacity="0.62"/>
<circle cx="64.10" cy="165.47" r="1.45" fill="rgb(40,40,230)" fill-opacity="0.62"/>
<circle cx="69.48" cy="165.89" r="1.45" fill="rgb(228,26,28)" fill-opacity="0.62"/>
<circle cx="74.86" cy="167.32" r="1.45" fill="rgb(228,26,28)" fill-opacity="0.8190320000000009"/>
<circle cx="80.24" cy="167.41" r="1.45" fill="rgb(228,26,28)" fill-opacity="0.8153056603773565"/>
<circle cx="90.99" cy="164.37" r="1.45" fill="rgb(40,40,230)" fill-opacity="0.6969333333333336"/>
<circle cx="101.75" cy="165.72" r="1.45" fill="rgb(228,26,28)" fill-opacity="0.62"/>
<circle cx="107.13" cy="165.72" r="1.45" fill="rgb(228,26,28)" fill-opacity="0.62"/>
<circle cx="112.51" cy="168.42" r="1.65" fill="rgb(228,26,28)" fill-opacity="1.0"/>
<circle cx="117.88" cy="168.42" r="1.65" fill="rgb(228,26,28)" fill-opacity="1.0"/>
<circle cx="123.26" cy="169.26" r="1.65" fill="rgb(228,26,28)" fill-opacity="1.0"/>
<circle cx="128.64" cy="169.01" r="1.65" fill="rgb(228,26,28)" fill-opacity="1.0"/>
<circle cx="134.02" cy="167.91" r="1.65" fill="rgb(228,26,28)" fill-opacity="1.0"/>
<circle cx="139.40" cy="168.76" r="1.65" fill="rgb(228,26,28)" fill-opacity="1.0"/>
<circle cx="144.77" cy="169.69" r="1.65" fill="rgb(228,26,28)" fill-opacity="1.0"/>
<circle cx="150.15" cy="170.61" r="1.65" fill="rgb(228,26,28)" fill-opacity="1.0"/>
<circle cx="155.53" cy="170.61" r="1.65" fill="rgb(228,26,28)" fill-opacity="1.0"/>
<circle cx="160.91" cy="173.48" r="1.65" fill="rgb(228,26,28)" fill-opacity="1.0"/>
<circle cx="166.29" cy="174.67" r="1.65" fill="rgb(228,26,28)" fill-opacity="1.0"/>
<circle cx="171.66" cy="172.72" r="1.65" fill="rgb(228,26,28)" fill-opacity="1.0"/>
<circle cx="177.04" cy="174.16" r="1.65" fill="rgb(228,26,28)" fill-opacity="1.0"/>
<circle cx="182.42" cy="175.42" r="1.65" fill="rgb(228,26,28)" fill-opacity="1.0"/>
<circle cx="187.80" cy="176.52" r="1.65" fill="rgb(228,26,28)" fill-opacity="1.0"/>
<circle cx="193.18" cy="178.46" r="1.65" fill="rgb(228,26,28)" fill-opacity="1.0"/>
<circle cx="198.55" cy="178.46" r="1.65" fill="rgb(228,26,28)" fill-opacity="1.0"/>
<circle cx="203.93" cy="177.45" r="1.65" fill="rgb(228,26,28)" fill-opacity="1.0"/>
<rect x="51.5" y="137.5" width="159.0" height="107.0" fill="rgb(255,0,0)" fill-opacity="0.2"/>
<line x1="101.45" y1="137.5" x2="101.45" y2="244.5" stroke="#000" stroke-width="1.0" stroke-dasharray="1.4 2.76" stroke-dashoffset="3.56"/>
<line x1="51.5" y1="165.55" x2="210.5" y2="165.55" stroke="#000" stroke-width="1.1" stroke-dasharray="4.2 4.2"/>
<rect x="51.5" y="137.5" width="159.0" height="107.0" fill="none" stroke="#FF4646" stroke-width="1.1"/>
<text x="58.5" y="145.2" font-family="'Liberation Sans', Arial, Helvetica, sans-serif" font-weight="bold" font-size="6.2" fill="#000">Avg. = -0.763</text>
</g>
<g>
<rect x="217.5" y="137.5" width="159.0" height="107.0" fill="#FFFFFF"/>
<polygon points="224.73,160.90 230.10,160.90 235.48,162.40 240.86,162.50 246.24,162.50 251.62,162.70 256.99,162.90 262.37,163.60 267.75,164.30 273.13,164.10 278.51,164.00 283.88,164.60 289.26,165.20 294.64,165.30 300.02,165.30 305.40,164.80 310.77,164.40 316.15,163.80 321.53,163.30 326.91,162.90 332.29,162.50 337.66,160.60 343.04,160.20 348.42,160.20 353.80,160.60 359.18,160.60 364.55,160.60 369.93,162.50 369.93,176.60 364.55,171.90 359.18,170.30 353.80,170.00 348.42,169.50 343.04,169.50 337.66,170.00 332.29,171.10 326.91,171.50 321.53,171.90 316.15,171.90 310.77,171.90 305.40,171.50 300.02,171.10 294.64,170.50 289.26,169.30 283.88,168.20 278.51,167.00 273.13,166.60 267.75,166.20 262.37,165.90 256.99,165.50 251.62,165.70 246.24,165.90 240.86,165.90 235.48,165.90 230.10,166.20 224.73,166.20" fill="rgba(110,110,110,0.30)"/>
<line x1="224.73" y1="160.90" x2="224.73" y2="166.20" stroke="rgba(0,0,0,0.035)" stroke-width="1"/>
<line x1="230.10" y1="160.90" x2="230.10" y2="166.20" stroke="rgba(0,0,0,0.035)" stroke-width="1"/>
<line x1="235.48" y1="162.40" x2="235.48" y2="165.90" stroke="rgba(0,0,0,0.035)" stroke-width="1"/>
<line x1="240.86" y1="162.50" x2="240.86" y2="165.90" stroke="rgba(0,0,0,0.035)" stroke-width="1"/>
<line x1="246.24" y1="162.50" x2="246.24" y2="165.90" stroke="rgba(0,0,0,0.035)" stroke-width="1"/>
<line x1="251.62" y1="162.70" x2="251.62" y2="165.70" stroke="rgba(0,0,0,0.035)" stroke-width="1"/>
<line x1="256.99" y1="162.90" x2="256.99" y2="165.50" stroke="rgba(0,0,0,0.035)" stroke-width="1"/>
<line x1="262.37" y1="163.60" x2="262.37" y2="165.90" stroke="rgba(0,0,0,0.035)" stroke-width="1"/>
<line x1="267.75" y1="164.30" x2="267.75" y2="166.20" stroke="rgba(0,0,0,0.035)" stroke-width="1"/>
<line x1="273.13" y1="164.10" x2="273.13" y2="166.60" stroke="rgba(0,0,0,0.035)" stroke-width="1"/>
<line x1="278.51" y1="164.00" x2="278.51" y2="167.00" stroke="rgba(0,0,0,0.035)" stroke-width="1"/>
<line x1="283.88" y1="164.60" x2="283.88" y2="168.20" stroke="rgba(0,0,0,0.035)" stroke-width="1"/>
<line x1="289.26" y1="165.20" x2="289.26" y2="169.30" stroke="rgba(0,0,0,0.035)" stroke-width="1"/>
<line x1="294.64" y1="165.30" x2="294.64" y2="170.50" stroke="rgba(0,0,0,0.035)" stroke-width="1"/>
<line x1="300.02" y1="165.30" x2="300.02" y2="171.10" stroke="rgba(0,0,0,0.035)" stroke-width="1"/>
<line x1="305.40" y1="164.80" x2="305.40" y2="171.50" stroke="rgba(0,0,0,0.035)" stroke-width="1"/>
<line x1="310.77" y1="164.40" x2="310.77" y2="171.90" stroke="rgba(0,0,0,0.035)" stroke-width="1"/>
<line x1="316.15" y1="163.80" x2="316.15" y2="171.90" stroke="rgba(0,0,0,0.035)" stroke-width="1"/>
<line x1="321.53" y1="163.30" x2="321.53" y2="171.90" stroke="rgba(0,0,0,0.035)" stroke-width="1"/>
<line x1="326.91" y1="162.90" x2="326.91" y2="171.50" stroke="rgba(0,0,0,0.035)" stroke-width="1"/>
<line x1="332.29" y1="162.50" x2="332.29" y2="171.10" stroke="rgba(0,0,0,0.035)" stroke-width="1"/>
<line x1="337.66" y1="160.60" x2="337.66" y2="170.00" stroke="rgba(0,0,0,0.035)" stroke-width="1"/>
<line x1="343.04" y1="160.20" x2="343.04" y2="169.50" stroke="rgba(0,0,0,0.035)" stroke-width="1"/>
<line x1="348.42" y1="160.20" x2="348.42" y2="169.50" stroke="rgba(0,0,0,0.035)" stroke-width="1"/>
<line x1="353.80" y1="160.60" x2="353.80" y2="170.00" stroke="rgba(0,0,0,0.035)" stroke-width="1"/>
<line x1="359.18" y1="160.60" x2="359.18" y2="170.30" stroke="rgba(0,0,0,0.035)" stroke-width="1"/>
<line x1="364.55" y1="160.60" x2="364.55" y2="171.90" stroke="rgba(0,0,0,0.035)" stroke-width="1"/>
<line x1="369.93" y1="162.50" x2="369.93" y2="176.60" stroke="rgba(0,0,0,0.035)" stroke-width="1"/>
<circle cx="224.73" cy="163.52" r="1.45" fill="rgb(40,40,230)" fill-opacity="0.8439698113207553"/>
<circle cx="230.10" cy="162.43" r="1.45" fill="rgb(40,40,230)" fill-opacity="0.92"/>
<circle cx="235.48" cy="164.03" r="1.45" fill="rgb(40,40,230)" fill-opacity="0.8906514285714318"/>
<circle cx="240.86" cy="163.69" r="1.45" fill="rgb(40,40,230)" fill-opacity="0.92"/>
<circle cx="246.24" cy="164.03" r="1.45" fill="rgb(40,40,230)" fill-opacity="0.9021411764705908"/>
<circle cx="256.99" cy="164.37" r="1.45" fill="rgb(40,40,230)" fill-opacity="0.9090153846153866"/>
<circle cx="267.75" cy="165.63" r="1.45" fill="rgb(228,26,28)" fill-opacity="0.62"/>
<circle cx="273.13" cy="165.04" r="1.45" fill="rgb(40,40,230)" fill-opacity="0.6823040000000049"/>
<circle cx="278.51" cy="165.21" r="1.45" fill="rgb(40,40,230)" fill-opacity="0.62"/>
<circle cx="283.88" cy="166.56" r="1.45" fill="rgb(228,26,28)" fill-opacity="0.7532000000000001"/>
<circle cx="289.26" cy="168.25" r="1.45" fill="rgb(228,26,28)" fill-opacity="0.92"/>
<circle cx="294.64" cy="168.50" r="1.45" fill="rgb(228,26,28)" fill-opacity="0.92"/>
<circle cx="300.02" cy="168.76" r="1.45" fill="rgb(228,26,28)" fill-opacity="0.92"/>
<circle cx="305.40" cy="168.34" r="1.45" fill="rgb(228,26,28)" fill-opacity="0.8741313432835831"/>
<circle cx="310.77" cy="168.50" r="1.45" fill="rgb(228,26,28)" fill-opacity="0.854480000000001"/>
<circle cx="316.15" cy="169.09" r="1.45" fill="rgb(228,26,28)" fill-opacity="0.8938666666666679"/>
<circle cx="321.53" cy="167.74" r="1.45" fill="rgb(228,26,28)" fill-opacity="0.7296465116279073"/>
<circle cx="326.91" cy="167.41" r="1.45" fill="rgb(228,26,28)" fill-opacity="0.6943162790697668"/>
<circle cx="332.29" cy="167.74" r="1.45" fill="rgb(228,26,28)" fill-opacity="0.7296465116279073"/>
<circle cx="337.66" cy="165.21" r="1.45" fill="rgb(40,40,230)" fill-opacity="0.62"/>
<circle cx="343.04" cy="165.97" r="1.45" fill="rgb(228,26,28)" fill-opacity="0.62"/>
<circle cx="348.42" cy="166.23" r="1.45" fill="rgb(228,26,28)" fill-opacity="0.62"/>
<circle cx="353.80" cy="165.97" r="1.45" fill="rgb(228,26,28)" fill-opacity="0.62"/>
<circle cx="359.18" cy="165.97" r="1.45" fill="rgb(228,26,28)" fill-opacity="0.62"/>
<circle cx="364.55" cy="166.23" r="1.45" fill="rgb(228,26,28)" fill-opacity="0.62"/>
<circle cx="369.93" cy="169.94" r="1.45" fill="rgb(228,26,28)" fill-opacity="0.7801361702127663"/>
<line x1="267.45" y1="137.5" x2="267.45" y2="244.5" stroke="#000" stroke-width="1.0" stroke-dasharray="1.4 2.76" stroke-dashoffset="3.56"/>
<line x1="217.5" y1="165.55" x2="376.5" y2="165.55" stroke="#000" stroke-width="1.1" stroke-dasharray="4.2 4.2"/>
<rect x="217.5" y="137.5" width="159.0" height="107.0" fill="none" stroke="#FF7070" stroke-width="1.1"/>
<text x="224.5" y="145.2" font-family="'Liberation Sans', Arial, Helvetica, sans-serif" font-weight="bold" font-size="6.2" fill="#000">Avg. = -0.214</text>
</g>
<g>
<rect x="384.0" y="137.5" width="159.0" height="107.0" fill="#FFFFFF"/>
<polygon points="391.18,161.70 396.55,162.70 401.93,164.70 407.31,163.20 412.69,160.90 418.07,159.40 423.44,157.50 428.82,160.10 434.20,164.00 439.58,165.50 444.96,165.80 450.33,165.80 455.71,166.20 461.09,166.30 466.47,169.40 471.85,171.70 477.22,173.30 482.60,174.70 487.98,175.60 493.36,178.60 498.74,177.00 504.11,177.00 509.49,172.40 514.87,176.30 520.25,177.00 525.63,177.40 531.00,175.20 536.38,176.30 536.38,239.90 531.00,238.00 525.63,236.90 520.25,234.60 514.87,233.50 509.49,208.30 504.11,193.00 498.74,192.30 493.36,193.50 487.98,185.50 482.60,182.00 477.22,179.70 471.85,176.30 466.47,172.90 461.09,169.50 455.71,171.60 450.33,171.30 444.96,170.80 439.58,168.20 434.20,166.20 428.82,166.20 423.44,167.00 418.07,167.80 412.69,170.00 407.31,172.40 401.93,175.40 396.55,170.40 391.18,170.00" fill="rgba(110,110,110,0.30)"/>
<line x1="391.18" y1="161.70" x2="391.18" y2="170.00" stroke="rgba(0,0,0,0.035)" stroke-width="1"/>
<line x1="396.55" y1="162.70" x2="396.55" y2="170.40" stroke="rgba(0,0,0,0.035)" stroke-width="1"/>
<line x1="401.93" y1="164.70" x2="401.93" y2="175.40" stroke="rgba(0,0,0,0.035)" stroke-width="1"/>
<line x1="407.31" y1="163.20" x2="407.31" y2="172.40" stroke="rgba(0,0,0,0.035)" stroke-width="1"/>
<line x1="412.69" y1="160.90" x2="412.69" y2="170.00" stroke="rgba(0,0,0,0.035)" stroke-width="1"/>
<line x1="418.07" y1="159.40" x2="418.07" y2="167.80" stroke="rgba(0,0,0,0.035)" stroke-width="1"/>
<line x1="423.44" y1="157.50" x2="423.44" y2="167.00" stroke="rgba(0,0,0,0.035)" stroke-width="1"/>
<line x1="428.82" y1="160.10" x2="428.82" y2="166.20" stroke="rgba(0,0,0,0.035)" stroke-width="1"/>
<line x1="434.20" y1="164.00" x2="434.20" y2="166.20" stroke="rgba(0,0,0,0.035)" stroke-width="1"/>
<line x1="439.58" y1="165.50" x2="439.58" y2="168.20" stroke="rgba(0,0,0,0.035)" stroke-width="1"/>
<line x1="444.96" y1="165.80" x2="444.96" y2="170.80" stroke="rgba(0,0,0,0.035)" stroke-width="1"/>
<line x1="450.33" y1="165.80" x2="450.33" y2="171.30" stroke="rgba(0,0,0,0.035)" stroke-width="1"/>
<line x1="455.71" y1="166.20" x2="455.71" y2="171.60" stroke="rgba(0,0,0,0.035)" stroke-width="1"/>
<line x1="461.09" y1="166.30" x2="461.09" y2="169.50" stroke="rgba(0,0,0,0.035)" stroke-width="1"/>
<line x1="466.47" y1="169.40" x2="466.47" y2="172.90" stroke="rgba(0,0,0,0.035)" stroke-width="1"/>
<line x1="471.85" y1="171.70" x2="471.85" y2="176.30" stroke="rgba(0,0,0,0.035)" stroke-width="1"/>
<line x1="477.22" y1="173.30" x2="477.22" y2="179.70" stroke="rgba(0,0,0,0.035)" stroke-width="1"/>
<line x1="482.60" y1="174.70" x2="482.60" y2="182.00" stroke="rgba(0,0,0,0.035)" stroke-width="1"/>
<line x1="487.98" y1="175.60" x2="487.98" y2="185.50" stroke="rgba(0,0,0,0.035)" stroke-width="1"/>
<line x1="493.36" y1="178.60" x2="493.36" y2="193.50" stroke="rgba(0,0,0,0.035)" stroke-width="1"/>
<line x1="498.74" y1="177.00" x2="498.74" y2="192.30" stroke="rgba(0,0,0,0.035)" stroke-width="1"/>
<line x1="504.11" y1="177.00" x2="504.11" y2="193.00" stroke="rgba(0,0,0,0.035)" stroke-width="1"/>
<line x1="509.49" y1="172.40" x2="509.49" y2="208.30" stroke="rgba(0,0,0,0.035)" stroke-width="1"/>
<line x1="514.87" y1="176.30" x2="514.87" y2="233.50" stroke="rgba(0,0,0,0.035)" stroke-width="1"/>
<line x1="520.25" y1="177.00" x2="520.25" y2="234.60" stroke="rgba(0,0,0,0.035)" stroke-width="1"/>
<line x1="525.63" y1="177.40" x2="525.63" y2="236.90" stroke="rgba(0,0,0,0.035)" stroke-width="1"/>
<line x1="531.00" y1="175.20" x2="531.00" y2="238.00" stroke="rgba(0,0,0,0.035)" stroke-width="1"/>
<line x1="536.38" y1="176.30" x2="536.38" y2="239.90" stroke="rgba(0,0,0,0.035)" stroke-width="1"/>
<line x1="401.93" y1="166.35" x2="401.93" y2="175.40" stroke="rgba(228,26,28,0.35)" stroke-width="0.9"/>
<line x1="444.96" y1="166.35" x2="444.96" y2="170.80" stroke="rgba(228,26,28,0.35)" stroke-width="0.9"/>
<line x1="450.33" y1="166.35" x2="450.33" y2="171.30" stroke="rgba(228,26,28,0.35)" stroke-width="0.9"/>
<line x1="466.47" y1="169.40" x2="466.47" y2="172.90" stroke="rgba(228,26,28,0.35)" stroke-width="0.9"/>
<line x1="471.85" y1="171.70" x2="471.85" y2="176.30" stroke="rgba(228,26,28,0.35)" stroke-width="0.9"/>
<line x1="477.22" y1="173.30" x2="477.22" y2="179.70" stroke="rgba(228,26,28,0.35)" stroke-width="0.9"/>
<line x1="482.60" y1="174.70" x2="482.60" y2="182.00" stroke="rgba(228,26,28,0.35)" stroke-width="0.9"/>
<line x1="487.98" y1="175.60" x2="487.98" y2="185.50" stroke="rgba(228,26,28,0.35)" stroke-width="0.9"/>
<line x1="493.36" y1="178.60" x2="493.36" y2="193.50" stroke="rgba(228,26,28,0.35)" stroke-width="0.9"/>
<line x1="498.74" y1="177.00" x2="498.74" y2="192.30" stroke="rgba(228,26,28,0.35)" stroke-width="0.9"/>
<line x1="504.11" y1="177.00" x2="504.11" y2="193.00" stroke="rgba(228,26,28,0.35)" stroke-width="0.9"/>
<line x1="509.49" y1="172.40" x2="509.49" y2="208.30" stroke="rgba(228,26,28,0.35)" stroke-width="0.9"/>
<line x1="514.87" y1="176.30" x2="514.87" y2="233.50" stroke="rgba(228,26,28,0.35)" stroke-width="0.9"/>
<line x1="520.25" y1="177.00" x2="520.25" y2="234.60" stroke="rgba(228,26,28,0.35)" stroke-width="0.9"/>
<line x1="525.63" y1="177.40" x2="525.63" y2="236.90" stroke="rgba(228,26,28,0.35)" stroke-width="0.9"/>
<line x1="531.00" y1="175.20" x2="531.00" y2="238.00" stroke="rgba(228,26,28,0.35)" stroke-width="0.9"/>
<line x1="536.38" y1="176.30" x2="536.38" y2="239.90" stroke="rgba(228,26,28,0.35)" stroke-width="0.9"/>
<circle cx="391.18" cy="166.14" r="1.45" fill="rgb(228,26,28)" fill-opacity="0.62"/>
<circle cx="396.55" cy="166.90" r="1.45" fill="rgb(228,26,28)" fill-opacity="0.6578389610389616"/>
<circle cx="401.93" cy="170.78" r="1.65" fill="rgb(228,26,28)" fill-opacity="1.0"/>
<circle cx="407.31" cy="168.00" r="1.45" fill="rgb(228,26,28)" fill-opacity="0.7394391304347816"/>
<circle cx="412.69" cy="166.90" r="1.45" fill="rgb(228,26,28)" fill-opacity="0.6335560439560448"/>
<circle cx="423.44" cy="164.28" r="1.45" fill="rgb(40,40,230)" fill-opacity="0.62"/>
<circle cx="434.20" cy="165.13" r="1.45" fill="rgb(40,40,230)" fill-opacity="0.6726363636363634"/>
<circle cx="439.58" cy="166.90" r="1.45" fill="rgb(228,26,28)" fill-opacity="0.92"/>
<circle cx="444.96" cy="168.42" r="1.65" fill="rgb(228,26,28)" fill-opacity="1.0"/>
<circle cx="450.33" cy="168.42" r="1.65" fill="rgb(228,26,28)" fill-opacity="1.0"/>
<circle cx="455.71" cy="168.08" r="1.45" fill="rgb(228,26,28)" fill-opacity="0.92"/>
<circle cx="461.09" cy="167.41" r="1.45" fill="rgb(228,26,28)" fill-opacity="0.92"/>
<circle cx="466.47" cy="170.02" r="1.65" fill="rgb(228,26,28)" fill-opacity="1.0"/>
<circle cx="471.85" cy="173.31" r="1.65" fill="rgb(228,26,28)" fill-opacity="1.0"/>
<circle cx="477.22" cy="176.27" r="1.65" fill="rgb(228,26,28)" fill-opacity="1.0"/>
<circle cx="482.60" cy="178.38" r="1.65" fill="rgb(228,26,28)" fill-opacity="1.0"/>
<circle cx="487.98" cy="181.16" r="1.65" fill="rgb(228,26,28)" fill-opacity="1.0"/>
<circle cx="493.36" cy="185.89" r="1.65" fill="rgb(228,26,28)" fill-opacity="1.0"/>
<circle cx="498.74" cy="184.29" r="1.65" fill="rgb(228,26,28)" fill-opacity="1.0"/>
<circle cx="504.11" cy="185.47" r="1.65" fill="rgb(228,26,28)" fill-opacity="1.0"/>
<circle cx="509.49" cy="188.84" r="1.65" fill="rgb(228,26,28)" fill-opacity="1.0"/>
<circle cx="514.87" cy="203.87" r="1.65" fill="rgb(228,26,28)" fill-opacity="1.0"/>
<circle cx="520.25" cy="205.64" r="1.65" fill="rgb(228,26,28)" fill-opacity="1.0"/>
<circle cx="525.63" cy="206.48" r="1.65" fill="rgb(228,26,28)" fill-opacity="1.0"/>
<circle cx="531.00" cy="206.06" r="1.65" fill="rgb(228,26,28)" fill-opacity="1.0"/>
<circle cx="536.38" cy="208.34" r="1.65" fill="rgb(228,26,28)" fill-opacity="1.0"/>
<rect x="384.0" y="137.5" width="159.0" height="107.0" fill="rgb(255,0,0)" fill-opacity="0.2"/>
<line x1="433.9" y1="137.5" x2="433.9" y2="244.5" stroke="#000" stroke-width="1.0" stroke-dasharray="1.4 2.76" stroke-dashoffset="3.56"/>
<line x1="384.0" y1="165.55" x2="543.0" y2="165.55" stroke="#000" stroke-width="1.1" stroke-dasharray="4.2 4.2"/>
<rect x="384.0" y="137.5" width="159.0" height="107.0" fill="none" stroke="#FF4646" stroke-width="1.1"/>
<text x="391.0" y="145.2" font-family="'Liberation Sans', Arial, Helvetica, sans-serif" font-weight="bold" font-size="6.2" fill="#000">Avg. = -1.437</text>
</g>
<g>
<rect x="51.5" y="251.5" width="159.0" height="107.0" fill="#FFFFFF"/>
<polygon points="58.73,324.30 64.10,324.30 69.48,324.30 74.86,323.40 80.24,322.60 85.62,324.00 90.99,325.50 96.37,326.30 101.75,327.10 107.13,325.80 112.51,324.60 117.88,324.80 123.26,325.00 128.64,326.30 134.02,327.20 139.40,327.20 144.77,326.80 150.15,324.90 155.53,324.30 160.91,300.90 166.29,313.90 171.66,314.20 177.04,313.90 182.42,311.00 187.80,306.20 193.18,304.30 198.55,303.40 203.93,302.00 203.93,336.40 198.55,335.80 193.18,335.80 187.80,334.80 182.42,332.90 177.04,334.80 171.66,334.80 166.29,335.80 160.91,335.80 155.53,332.00 150.15,332.50 144.77,334.50 139.40,333.90 134.02,332.90 128.64,332.50 123.26,332.90 117.88,332.50 112.51,332.10 107.13,331.60 101.75,331.20 96.37,331.60 90.99,332.10 85.62,331.90 80.24,331.70 74.86,332.10 69.48,332.60 64.10,333.50 58.73,334.50" fill="rgba(110,110,110,0.30)"/>
<line x1="58.73" y1="324.30" x2="58.73" y2="334.50" stroke="rgba(0,0,0,0.035)" stroke-width="1"/>
<line x1="64.10" y1="324.30" x2="64.10" y2="333.50" stroke="rgba(0,0,0,0.035)" stroke-width="1"/>
<line x1="69.48" y1="324.30" x2="69.48" y2="332.60" stroke="rgba(0,0,0,0.035)" stroke-width="1"/>
<line x1="74.86" y1="323.40" x2="74.86" y2="332.10" stroke="rgba(0,0,0,0.035)" stroke-width="1"/>
<line x1="80.24" y1="322.60" x2="80.24" y2="331.70" stroke="rgba(0,0,0,0.035)" stroke-width="1"/>
<line x1="85.62" y1="324.00" x2="85.62" y2="331.90" stroke="rgba(0,0,0,0.035)" stroke-width="1"/>
<line x1="90.99" y1="325.50" x2="90.99" y2="332.10" stroke="rgba(0,0,0,0.035)" stroke-width="1"/>
<line x1="96.37" y1="326.30" x2="96.37" y2="331.60" stroke="rgba(0,0,0,0.035)" stroke-width="1"/>
<line x1="101.75" y1="327.10" x2="101.75" y2="331.20" stroke="rgba(0,0,0,0.035)" stroke-width="1"/>
<line x1="107.13" y1="325.80" x2="107.13" y2="331.60" stroke="rgba(0,0,0,0.035)" stroke-width="1"/>
<line x1="112.51" y1="324.60" x2="112.51" y2="332.10" stroke="rgba(0,0,0,0.035)" stroke-width="1"/>
<line x1="117.88" y1="324.80" x2="117.88" y2="332.50" stroke="rgba(0,0,0,0.035)" stroke-width="1"/>
<line x1="123.26" y1="325.00" x2="123.26" y2="332.90" stroke="rgba(0,0,0,0.035)" stroke-width="1"/>
<line x1="128.64" y1="326.30" x2="128.64" y2="332.50" stroke="rgba(0,0,0,0.035)" stroke-width="1"/>
<line x1="134.02" y1="327.20" x2="134.02" y2="332.90" stroke="rgba(0,0,0,0.035)" stroke-width="1"/>
<line x1="139.40" y1="327.20" x2="139.40" y2="333.90" stroke="rgba(0,0,0,0.035)" stroke-width="1"/>
<line x1="144.77" y1="326.80" x2="144.77" y2="334.50" stroke="rgba(0,0,0,0.035)" stroke-width="1"/>
<line x1="150.15" y1="324.90" x2="150.15" y2="332.50" stroke="rgba(0,0,0,0.035)" stroke-width="1"/>
<line x1="155.53" y1="324.30" x2="155.53" y2="332.00" stroke="rgba(0,0,0,0.035)" stroke-width="1"/>
<line x1="160.91" y1="300.90" x2="160.91" y2="335.80" stroke="rgba(0,0,0,0.035)" stroke-width="1"/>
<line x1="166.29" y1="313.90" x2="166.29" y2="335.80" stroke="rgba(0,0,0,0.035)" stroke-width="1"/>
<line x1="171.66" y1="314.20" x2="171.66" y2="334.80" stroke="rgba(0,0,0,0.035)" stroke-width="1"/>
<line x1="177.04" y1="313.90" x2="177.04" y2="334.80" stroke="rgba(0,0,0,0.035)" stroke-width="1"/>
<line x1="182.42" y1="311.00" x2="182.42" y2="332.90" stroke="rgba(0,0,0,0.035)" stroke-width="1"/>
<line x1="187.80" y1="306.20" x2="187.80" y2="334.80" stroke="rgba(0,0,0,0.035)" stroke-width="1"/>
<line x1="193.18" y1="304.30" x2="193.18" y2="335.80" stroke="rgba(0,0,0,0.035)" stroke-width="1"/>
<line x1="198.55" y1="303.40" x2="198.55" y2="335.80" stroke="rgba(0,0,0,0.035)" stroke-width="1"/>
<line x1="203.93" y1="302.00" x2="203.93" y2="336.40" stroke="rgba(0,0,0,0.035)" stroke-width="1"/>
<circle cx="58.73" cy="329.43" r="1.45" fill="rgb(228,26,28)" fill-opacity="0.62"/>
<circle cx="64.10" cy="328.39" r="1.45" fill="rgb(40,40,230)" fill-opacity="0.62"/>
<circle cx="69.48" cy="328.39" r="1.45" fill="rgb(40,40,230)" fill-opacity="0.62"/>
<circle cx="74.86" cy="326.89" r="1.45" fill="rgb(40,40,230)" fill-opacity="0.7393793103448285"/>
<circle cx="80.24" cy="327.23" r="1.45" fill="rgb(40,40,230)" fill-opacity="0.6945285714285732"/>
<circle cx="90.99" cy="329.66" r="1.45" fill="rgb(228,26,28)" fill-opacity="0.62"/>
<circle cx="101.75" cy="329.32" r="1.45" fill="rgb(228,26,28)" fill-opacity="0.62"/>
<circle cx="107.13" cy="329.08" r="1.45" fill="rgb(40,40,230)" fill-opacity="0.62"/>
<circle cx="112.51" cy="327.46" r="1.45" fill="rgb(40,40,230)" fill-opacity="0.7082600000000002"/>
<circle cx="117.88" cy="327.23" r="1.45" fill="rgb(40,40,230)" fill-opacity="0.7298974025974041"/>
<circle cx="123.26" cy="328.85" r="1.45" fill="rgb(40,40,230)" fill-opacity="0.62"/>
<circle cx="128.64" cy="329.20" r="1.45" fill="rgb(40,40,230)" fill-opacity="0.62"/>
<circle cx="134.02" cy="329.55" r="1.45" fill="rgb(228,26,28)" fill-opacity="0.62"/>
<circle cx="139.40" cy="330.47" r="1.45" fill="rgb(228,26,28)" fill-opacity="0.6709597014925357"/>
<circle cx="144.77" cy="330.94" r="1.45" fill="rgb(228,26,28)" fill-opacity="0.7028506493506499"/>
<circle cx="150.15" cy="328.62" r="1.45" fill="rgb(40,40,230)" fill-opacity="0.62"/>
<circle cx="155.53" cy="328.97" r="1.45" fill="rgb(40,40,230)" fill-opacity="0.62"/>
<circle cx="160.91" cy="319.13" r="1.45" fill="rgb(40,40,230)" fill-opacity="0.7595790830945557"/>
<circle cx="166.29" cy="324.22" r="1.45" fill="rgb(40,40,230)" fill-opacity="0.7044561643835612"/>
<circle cx="171.66" cy="324.22" r="1.45" fill="rgb(40,40,230)" fill-opacity="0.7173587378640773"/>
<circle cx="177.04" cy="325.61" r="1.45" fill="rgb(40,40,230)" fill-opacity="0.6544511961722489"/>
<circle cx="182.42" cy="323.30" r="1.45" fill="rgb(40,40,230)" fill-opacity="0.7424945205479443"/>
<circle cx="187.80" cy="319.48" r="1.45" fill="rgb(40,40,230)" fill-opacity="0.805836363636363"/>
<circle cx="193.18" cy="319.13" r="1.45" fill="rgb(40,40,230)" fill-opacity="0.7875971428571429"/>
<circle cx="198.55" cy="318.67" r="1.45" fill="rgb(40,40,230)" fill-opacity="0.7924638888888891"/>
<circle cx="203.93" cy="319.13" r="1.45" fill="rgb(40,40,230)" fill-opacity="0.763352034883721"/>
<line x1="101.45" y1="251.5" x2="101.45" y2="358.5" stroke="#000" stroke-width="1.0" stroke-dasharray="1.4 2.76" stroke-dashoffset="2.06"/>
<line x1="51.5" y1="329.2" x2="210.5" y2="329.2" stroke="#000" stroke-width="1.1" stroke-dasharray="4.2 4.2"/>
<rect x="51.5" y="251.5" width="159.0" height="107.0" fill="none" stroke="#7070FF" stroke-width="1.1" stroke-dasharray="2.1 2.1"/>
<text x="58.5" y="299.2" font-family="'Liberation Sans', Arial, Helvetica, sans-serif" font-weight="bold" font-size="6.2" fill="#000">Avg. = 0.491</text>
</g>
<g>
<rect x="217.5" y="251.5" width="159.0" height="107.0" fill="#FFFFFF"/>
<polygon points="224.73,322.10 230.10,322.70 235.48,323.30 240.86,322.50 246.24,321.70 251.62,324.40 256.99,327.10 262.37,327.50 267.75,327.90 273.13,310.60 278.51,323.30 283.88,321.30 289.26,320.50 294.64,320.50 300.02,320.20 305.40,320.00 310.77,319.30 316.15,318.60 321.53,318.00 326.91,317.30 332.29,316.50 337.66,315.80 343.04,315.40 348.42,315.80 353.80,311.00 359.18,308.10 364.55,308.10 369.93,307.20 369.93,328.20 364.55,328.20 359.18,328.20 353.80,328.20 348.42,335.20 343.04,334.80 337.66,333.90 332.29,333.40 326.91,332.90 321.53,332.40 316.15,332.00 310.77,331.50 305.40,331.00 300.02,330.80 294.64,330.60 289.26,332.10 283.88,332.90 278.51,334.50 273.13,338.70 267.75,330.90 262.37,330.90 256.99,330.90 251.62,331.00 246.24,331.20 240.86,331.90 235.48,332.60 230.10,332.80 224.73,332.90" fill="rgba(110,110,110,0.30)"/>
<rect x="217.5" y="251.5" width="159.0" height="107.0" fill="rgb(100,149,237)" fill-opacity="0.36"/>
<line x1="224.73" y1="322.10" x2="224.73" y2="332.90" stroke="rgba(0,0,0,0.035)" stroke-width="1"/>
<line x1="230.10" y1="322.70" x2="230.10" y2="332.80" stroke="rgba(0,0,0,0.035)" stroke-width="1"/>
<line x1="235.48" y1="323.30" x2="235.48" y2="332.60" stroke="rgba(0,0,0,0.035)" stroke-width="1"/>
<line x1="240.86" y1="322.50" x2="240.86" y2="331.90" stroke="rgba(0,0,0,0.035)" stroke-width="1"/>
<line x1="246.24" y1="321.70" x2="246.24" y2="331.20" stroke="rgba(0,0,0,0.035)" stroke-width="1"/>
<line x1="251.62" y1="324.40" x2="251.62" y2="331.00" stroke="rgba(0,0,0,0.035)" stroke-width="1"/>
<line x1="256.99" y1="327.10" x2="256.99" y2="330.90" stroke="rgba(0,0,0,0.035)" stroke-width="1"/>
<line x1="262.37" y1="327.50" x2="262.37" y2="330.90" stroke="rgba(0,0,0,0.035)" stroke-width="1"/>
<line x1="267.75" y1="327.90" x2="267.75" y2="330.90" stroke="rgba(0,0,0,0.035)" stroke-width="1"/>
<line x1="273.13" y1="310.60" x2="273.13" y2="338.70" stroke="rgba(0,0,0,0.035)" stroke-width="1"/>
<line x1="278.51" y1="323.30" x2="278.51" y2="334.50" stroke="rgba(0,0,0,0.035)" stroke-width="1"/>
<line x1="283.88" y1="321.30" x2="283.88" y2="332.90" stroke="rgba(0,0,0,0.035)" stroke-width="1"/>
<line x1="289.26" y1="320.50" x2="289.26" y2="332.10" stroke="rgba(0,0,0,0.035)" stroke-width="1"/>
<line x1="294.64" y1="320.50" x2="294.64" y2="330.60" stroke="rgba(0,0,0,0.035)" stroke-width="1"/>
<line x1="300.02" y1="320.20" x2="300.02" y2="330.80" stroke="rgba(0,0,0,0.035)" stroke-width="1"/>
<line x1="305.40" y1="320.00" x2="305.40" y2="331.00" stroke="rgba(0,0,0,0.035)" stroke-width="1"/>
<line x1="310.77" y1="319.30" x2="310.77" y2="331.50" stroke="rgba(0,0,0,0.035)" stroke-width="1"/>
<line x1="316.15" y1="318.60" x2="316.15" y2="332.00" stroke="rgba(0,0,0,0.035)" stroke-width="1"/>
<line x1="321.53" y1="318.00" x2="321.53" y2="332.40" stroke="rgba(0,0,0,0.035)" stroke-width="1"/>
<line x1="326.91" y1="317.30" x2="326.91" y2="332.90" stroke="rgba(0,0,0,0.035)" stroke-width="1"/>
<line x1="332.29" y1="316.50" x2="332.29" y2="333.40" stroke="rgba(0,0,0,0.035)" stroke-width="1"/>
<line x1="337.66" y1="315.80" x2="337.66" y2="333.90" stroke="rgba(0,0,0,0.035)" stroke-width="1"/>
<line x1="343.04" y1="315.40" x2="343.04" y2="334.80" stroke="rgba(0,0,0,0.035)" stroke-width="1"/>
<line x1="348.42" y1="315.80" x2="348.42" y2="335.20" stroke="rgba(0,0,0,0.035)" stroke-width="1"/>
<line x1="353.80" y1="311.00" x2="353.80" y2="328.20" stroke="rgba(0,0,0,0.035)" stroke-width="1"/>
<line x1="359.18" y1="308.10" x2="359.18" y2="328.20" stroke="rgba(0,0,0,0.035)" stroke-width="1"/>
<line x1="364.55" y1="308.10" x2="364.55" y2="328.20" stroke="rgba(0,0,0,0.035)" stroke-width="1"/>
<line x1="369.93" y1="307.20" x2="369.93" y2="328.20" stroke="rgba(0,0,0,0.035)" stroke-width="1"/>
<line x1="353.80" y1="311.00" x2="353.80" y2="328.20" stroke="rgba(40,40,230,0.35)" stroke-width="0.9"/>
<line x1="359.18" y1="308.10" x2="359.18" y2="328.20" stroke="rgba(40,40,230,0.35)" stroke-width="0.9"/>
<line x1="364.55" y1="308.10" x2="364.55" y2="328.20" stroke="rgba(40,40,230,0.35)" stroke-width="0.9"/>
<line x1="369.93" y1="307.20" x2="369.93" y2="328.20" stroke="rgba(40,40,230,0.35)" stroke-width="0.9"/>
<circle cx="224.73" cy="327.46" r="1.45" fill="rgb(40,40,230)" fill-opacity="0.6446250000000008"/>
<circle cx="230.10" cy="328.39" r="1.45" fill="rgb(40,40,230)" fill-opacity="0.62"/>
<circle cx="235.48" cy="328.04" r="1.45" fill="rgb(40,40,230)" fill-opacity="0.62"/>
<circle cx="240.86" cy="327.23" r="1.45" fill="rgb(40,40,230)" fill-opacity="0.6883202127659589"/>
<circle cx="246.24" cy="325.61" r="1.45" fill="rgb(40,40,230)" fill-opacity="0.8397926315789481"/>
<circle cx="256.99" cy="329.08" r="1.45" fill="rgb(40,40,230)" fill-opacity="0.62"/>
<circle cx="267.75" cy="329.66" r="1.45" fill="rgb(228,26,28)" fill-opacity="0.6388400000000047"/>
<circle cx="273.13" cy="324.46" r="1.45" fill="rgb(40,40,230)" fill-opacity="0.6519334519572952"/>
<circle cx="278.51" cy="328.85" r="1.45" fill="rgb(40,40,230)" fill-opacity="0.62"/>
<circle cx="283.88" cy="327.23" r="1.45" fill="rgb(40,40,230)" fill-opacity="0.6526043103448288"/>
<circle cx="289.26" cy="326.08" r="1.45" fill="rgb(40,40,230)" fill-opacity="0.7423715517241368"/>
<circle cx="294.64" cy="326.08" r="1.45" fill="rgb(40,40,230)" fill-opacity="0.778367326732672"/>
<circle cx="300.02" cy="325.61" r="1.45" fill="rgb(40,40,230)" fill-opacity="0.8045311320754718"/>
<circle cx="305.40" cy="325.61" r="1.45" fill="rgb(40,40,230)" fill-opacity="0.7934572727272733"/>
<circle cx="310.77" cy="325.27" r="1.45" fill="rgb(40,40,230)" fill-opacity="0.7901983606557395"/>
<circle cx="316.15" cy="324.80" r="1.45" fill="rgb(40,40,230)" fill-opacity="0.7952940298507454"/>
<circle cx="321.53" cy="324.22" r="1.45" fill="rgb(40,40,230)" fill-opacity="0.8109437500000003"/>
<circle cx="326.91" cy="323.88" r="1.45" fill="rgb(40,40,230)" fill-opacity="0.8070500000000012"/>
<circle cx="332.29" cy="323.88" r="1.45" fill="rgb(40,40,230)" fill-opacity="0.7834307692307702"/>
<circle cx="337.66" cy="323.88" r="1.45" fill="rgb(40,40,230)" fill-opacity="0.7646397790055258"/>
<circle cx="343.04" cy="325.27" r="1.45" fill="rgb(40,40,230)" fill-opacity="0.6824958762886604"/>
<circle cx="348.42" cy="325.61" r="1.45" fill="rgb(40,40,230)" fill-opacity="0.6663932989690727"/>
<circle cx="353.80" cy="319.94" r="1.65" fill="rgb(40,40,230)" fill-opacity="1.0"/>
<circle cx="359.18" cy="317.98" r="1.65" fill="rgb(40,40,230)" fill-opacity="1.0"/>
<circle cx="364.55" cy="318.44" r="1.65" fill="rgb(40,40,230)" fill-opacity="1.0"/>
<circle cx="369.93" cy="317.17" r="1.65" fill="rgb(40,40,230)" fill-opacity="1.0"/>
<line x1="267.45" y1="251.5" x2="267.45" y2="358.5" stroke="#000" stroke-width="1.0" stroke-dasharray="1.4 2.76" stroke-dashoffset="2.06"/>
<line x1="217.5" y1="329.2" x2="376.5" y2="329.2" stroke="#000" stroke-width="1.1" stroke-dasharray="4.2 4.2"/>
<rect x="217.5" y="251.5" width="159.0" height="107.0" fill="none" stroke="#7070FF" stroke-width="1.1"/>
<text x="224.5" y="299.2" font-family="'Liberation Sans', Arial, Helvetica, sans-serif" font-weight="bold" font-size="6.2" fill="#000">Avg. = 0.606</text>
</g>
<g>
<rect x="384.0" y="251.5" width="159.0" height="107.0" fill="#FFFFFF"/>
<polygon points="391.18,323.80 396.55,320.50 401.93,318.30 407.31,320.50 412.69,318.30 418.07,321.30 423.44,326.30 428.82,326.00 434.20,326.30 439.58,327.10 444.96,327.90 450.33,329.30 455.71,330.40 461.09,330.00 466.47,326.90 471.85,325.50 477.22,322.00 482.60,324.20 487.98,322.80 493.36,317.30 498.74,314.60 504.11,313.70 509.49,313.70 514.87,259.60 520.25,258.20 525.63,259.60 531.00,256.00 536.38,256.90 536.38,353.00 531.00,353.00 525.63,351.60 520.25,349.50 514.87,347.50 509.49,343.40 504.11,342.00 498.74,340.70 493.36,339.30 487.98,337.40 482.60,335.70 477.22,335.20 471.85,337.40 466.47,339.30 461.09,340.70 455.71,339.50 450.33,337.00 444.96,333.70 439.58,331.60 434.20,330.90 428.82,331.20 423.44,332.60 418.07,332.10 412.69,331.60 407.31,332.10 401.93,332.60 396.55,334.50 391.18,338.70" fill="rgba(110,110,110,0.30)"/>
<line x1="391.18" y1="323.80" x2="391.18" y2="338.70" stroke="rgba(0,0,0,0.035)" stroke-width="1"/>
<line x1="396.55" y1="320.50" x2="396.55" y2="334.50" stroke="rgba(0,0,0,0.035)" stroke-width="1"/>
<line x1="401.93" y1="318.30" x2="401.93" y2="332.60" stroke="rgba(0,0,0,0.035)" stroke-width="1"/>
<line x1="407.31" y1="320.50" x2="407.31" y2="332.10" stroke="rgba(0,0,0,0.035)" stroke-width="1"/>
<line x1="412.69" y1="318.30" x2="412.69" y2="331.60" stroke="rgba(0,0,0,0.035)" stroke-width="1"/>
<line x1="418.07" y1="321.30" x2="418.07" y2="332.10" stroke="rgba(0,0,0,0.035)" stroke-width="1"/>
<line x1="423.44" y1="326.30" x2="423.44" y2="332.60" stroke="rgba(0,0,0,0.035)" stroke-width="1"/>
<line x1="428.82" y1="326.00" x2="428.82" y2="331.20" stroke="rgba(0,0,0,0.035)" stroke-width="1"/>
<line x1="434.20" y1="326.30" x2="434.20" y2="330.90" stroke="rgba(0,0,0,0.035)" stroke-width="1"/>
<line x1="439.58" y1="327.10" x2="439.58" y2="331.60" stroke="rgba(0,0,0,0.035)" stroke-width="1"/>
<line x1="444.96" y1="327.90" x2="444.96" y2="333.70" stroke="rgba(0,0,0,0.035)" stroke-width="1"/>
<line x1="450.33" y1="329.30" x2="450.33" y2="337.00" stroke="rgba(0,0,0,0.035)" stroke-width="1"/>
<line x1="455.71" y1="330.40" x2="455.71" y2="339.50" stroke="rgba(0,0,0,0.035)" stroke-width="1"/>
<line x1="461.09" y1="330.00" x2="461.09" y2="340.70" stroke="rgba(0,0,0,0.035)" stroke-width="1"/>
<line x1="466.47" y1="326.90" x2="466.47" y2="339.30" stroke="rgba(0,0,0,0.035)" stroke-width="1"/>
<line x1="471.85" y1="325.50" x2="471.85" y2="337.40" stroke="rgba(0,0,0,0.035)" stroke-width="1"/>
<line x1="477.22" y1="322.00" x2="477.22" y2="335.20" stroke="rgba(0,0,0,0.035)" stroke-width="1"/>
<line x1="482.60" y1="324.20" x2="482.60" y2="335.70" stroke="rgba(0,0,0,0.035)" stroke-width="1"/>
<line x1="487.98" y1="322.80" x2="487.98" y2="337.40" stroke="rgba(0,0,0,0.035)" stroke-width="1"/>
<line x1="493.36" y1="317.30" x2="493.36" y2="339.30" stroke="rgba(0,0,0,0.035)" stroke-width="1"/>
<line x1="498.74" y1="314.60" x2="498.74" y2="340.70" stroke="rgba(0,0,0,0.035)" stroke-width="1"/>
<line x1="504.11" y1="313.70" x2="504.11" y2="342.00" stroke="rgba(0,0,0,0.035)" stroke-width="1"/>
<line x1="509.49" y1="313.70" x2="509.49" y2="343.40" stroke="rgba(0,0,0,0.035)" stroke-width="1"/>
<line x1="514.87" y1="259.60" x2="514.87" y2="347.50" stroke="rgba(0,0,0,0.035)" stroke-width="1"/>
<line x1="520.25" y1="258.20" x2="520.25" y2="349.50" stroke="rgba(0,0,0,0.035)" stroke-width="1"/>
<line x1="525.63" y1="259.60" x2="525.63" y2="351.60" stroke="rgba(0,0,0,0.035)" stroke-width="1"/>
<line x1="531.00" y1="256.00" x2="531.00" y2="353.00" stroke="rgba(0,0,0,0.035)" stroke-width="1"/>
<line x1="536.38" y1="256.90" x2="536.38" y2="353.00" stroke="rgba(0,0,0,0.035)" stroke-width="1"/>
<line x1="461.09" y1="330.60" x2="461.09" y2="340.23" stroke="rgba(228,26,28,0.35)" stroke-width="0.9"/>
<circle cx="391.18" cy="331.75" r="1.45" fill="rgb(228,26,28)" fill-opacity="0.6537489932885892"/>
<circle cx="396.55" cy="328.51" r="1.45" fill="rgb(40,40,230)" fill-opacity="0.62"/>
<circle cx="401.93" cy="324.69" r="1.45" fill="rgb(40,40,230)" fill-opacity="0.7839909090909077"/>
<circle cx="407.31" cy="326.08" r="1.45" fill="rgb(40,40,230)" fill-opacity="0.7423715517241368"/>
<circle cx="412.69" cy="324.69" r="1.45" fill="rgb(40,40,230)" fill-opacity="0.805343609022555"/>
<circle cx="423.44" cy="330.24" r="1.45" fill="rgb(228,26,28)" fill-opacity="0.6487571428571395"/>
<circle cx="434.20" cy="328.51" r="1.45" fill="rgb(40,40,230)" fill-opacity="0.6358217391304404"/>
<circle cx="439.58" cy="328.85" r="1.45" fill="rgb(40,40,230)" fill-opacity="0.62"/>
<circle cx="444.96" cy="331.05" r="1.45" fill="rgb(228,26,28)" fill-opacity="0.7872551724137935"/>
<circle cx="450.33" cy="333.83" r="1.45" fill="rgb(228,26,28)" fill-opacity="0.92"/>
<circle cx="455.71" cy="334.29" r="1.45" fill="rgb(228,26,28)" fill-opacity="0.92"/>
<circle cx="461.09" cy="336.03" r="1.65" fill="rgb(228,26,28)" fill-opacity="1.0"/>
<circle cx="466.47" cy="333.94" r="1.45" fill="rgb(228,26,28)" fill-opacity="0.8443008064516112"/>
<circle cx="471.85" cy="332.56" r="1.45" fill="rgb(228,26,28)" fill-opacity="0.75376218487395"/>
<circle cx="477.22" cy="328.39" r="1.45" fill="rgb(40,40,230)" fill-opacity="0.62"/>
<circle cx="482.60" cy="330.59" r="1.45" fill="rgb(228,26,28)" fill-opacity="0.62"/>
<circle cx="487.98" cy="329.78" r="1.45" fill="rgb(228,26,28)" fill-opacity="0.62"/>
<circle cx="493.36" cy="324.80" r="1.45" fill="rgb(40,40,230)" fill-opacity="0.6798609090909082"/>
<circle cx="498.74" cy="325.61" r="1.45" fill="rgb(40,40,230)" fill-opacity="0.623679310344828"/>
<circle cx="504.11" cy="326.54" r="1.45" fill="rgb(40,40,230)" fill-opacity="0.62"/>
<circle cx="509.49" cy="329.78" r="1.45" fill="rgb(228,26,28)" fill-opacity="0.62"/>
<circle cx="514.87" cy="305.94" r="1.45" fill="rgb(40,40,230)" fill-opacity="0.7381129692832764"/>
<circle cx="520.25" cy="302.36" r="1.45" fill="rgb(40,40,230)" fill-opacity="0.7646019715224535"/>
<circle cx="525.63" cy="304.56" r="1.45" fill="rgb(40,40,230)" fill-opacity="0.7410835869565215"/>
<circle cx="531.00" cy="305.02" r="1.45" fill="rgb(40,40,230)" fill-opacity="0.7243625773195879"/>
<circle cx="536.38" cy="304.56" r="1.45" fill="rgb(40,40,230)" fill-opacity="0.7307980228928197"/>
<line x1="433.9" y1="251.5" x2="433.9" y2="358.5" stroke="#000" stroke-width="1.0" stroke-dasharray="1.4 2.76" stroke-dashoffset="2.06"/>
<line x1="384.0" y1="329.2" x2="543.0" y2="329.2" stroke="#000" stroke-width="1.1" stroke-dasharray="4.2 4.2"/>
<rect x="384.0" y="251.5" width="159.0" height="107.0" fill="none" stroke="#FF8060" stroke-width="1.1"/>
<rect x="384.0" y="251.5" width="159.0" height="107.0" fill="none" stroke="#7070FF" stroke-width="1.1" stroke-dasharray="2.1 2.1"/>
<text x="391.0" y="299.2" font-family="'Liberation Sans', Arial, Helvetica, sans-serif" font-weight="bold" font-size="6.2" fill="#000">Avg. = 0.175</text>
</g>
<rect x="51.5" y="6.5" width="159.0" height="16" fill="#FFFFFF" stroke="#000" stroke-width="1.1"/>
<rect x="52.7" y="7.6" width="156.6" height="13.6" fill="#F0F0F0"/>
<text x="131.0" y="17.3" text-anchor="middle" font-family="'Liberation Sans', Arial, Helvetica, sans-serif" font-size="6.7" fill="#1A1A1A">Electronic PDMP</text>
<rect x="217.5" y="6.5" width="159.0" height="16" fill="#FFFFFF" stroke="#000" stroke-width="1.1"/>
<rect x="218.7" y="7.6" width="156.6" height="13.6" fill="#F0F0F0"/>
<text x="297.0" y="17.3" text-anchor="middle" font-family="'Liberation Sans', Arial, Helvetica, sans-serif" font-size="6.7" fill="#1A1A1A">Operational PDMP</text>
<rect x="384.0" y="6.5" width="159.0" height="16" fill="#FFFFFF" stroke="#000" stroke-width="1.1"/>
<rect x="385.2" y="7.6" width="156.6" height="13.6" fill="#F0F0F0"/>
<text x="463.5" y="17.3" text-anchor="middle" font-family="'Liberation Sans', Arial, Helvetica, sans-serif" font-size="6.7" fill="#1A1A1A">PillMill</text>
<rect x="34.5" y="22.5" width="16" height="108.0" fill="#FFFFFF" stroke="#000" stroke-width="1.1"/>
<rect x="36.6" y="23.7" width="12.0" height="105.6" fill="#F0F0F0"/>
<line x1="50.3" y1="22.5" x2="50.3" y2="130.5" stroke="#50585A" stroke-width="1"/>
<line x1="51.4" y1="23.0" x2="51.4" y2="130.0" stroke="#6B2222" stroke-width="1.1"/>
<text transform="translate(45.9,77.2) rotate(-90)" x="0" y="0" text-anchor="middle" font-family="'Liberation Sans', Arial, Helvetica, sans-serif" font-size="6.7" fill="#1A1A1A">PCPV</text>
<rect x="34.5" y="137.5" width="16" height="107.0" fill="#FFFFFF" stroke="#000" stroke-width="1.1"/>
<rect x="36.6" y="138.7" width="12.0" height="104.6" fill="#F0F0F0"/>
<line x1="50.3" y1="137.5" x2="50.3" y2="244.5" stroke="#50585A" stroke-width="1"/>
<line x1="51.4" y1="138.0" x2="51.4" y2="244.0" stroke="#6B2222" stroke-width="1.1"/>
<text transform="translate(45.9,191.7) rotate(-90)" x="0" y="0" text-anchor="middle" font-family="'Liberation Sans', Arial, Helvetica, sans-serif" font-size="6.7" fill="#1A1A1A">In-State PCPV</text>
<rect x="34.5" y="251.5" width="16" height="107.0" fill="#FFFFFF" stroke="#000" stroke-width="1.1"/>
<rect x="36.6" y="252.7" width="12.0" height="104.6" fill="#F0F0F0"/>
<line x1="50.3" y1="251.5" x2="50.3" y2="358.5" stroke="#50585A" stroke-width="1"/>
<line x1="51.4" y1="252.0" x2="51.4" y2="358.0" stroke="#5A5A4A" stroke-width="1.1"/>
<line x1="51.4" y1="252.0" x2="51.4" y2="358.0" stroke="#1E1E8C" stroke-width="1.1" stroke-dasharray="2.1 2.1"/>
<text transform="translate(45.9,305.7) rotate(-90)" x="0" y="0" text-anchor="middle" font-family="'Liberation Sans', Arial, Helvetica, sans-serif" font-size="6.7" fill="#1A1A1A">Out-of-State PCPV</text>
<line x1="31.3" y1="30.70" x2="34.5" y2="30.70" stroke="#333" stroke-width="1.05"/>
<text x="29.0" y="33.70" text-anchor="end" font-family="'Liberation Sans', Arial, Helvetica, sans-serif" font-size="6.8" fill="#3A3A3A">2.5</text>
<line x1="31.3" y1="56.50" x2="34.5" y2="56.50" stroke="#333" stroke-width="1.05"/>
<text x="29.0" y="59.50" text-anchor="end" font-family="'Liberation Sans', Arial, Helvetica, sans-serif" font-size="6.8" fill="#3A3A3A">0.0</text>
<line x1="31.3" y1="82.30" x2="34.5" y2="82.30" stroke="#333" stroke-width="1.05"/>
<text x="29.0" y="85.30" text-anchor="end" font-family="'Liberation Sans', Arial, Helvetica, sans-serif" font-size="6.8" fill="#3A3A3A">-2.5</text>
<line x1="31.3" y1="108.10" x2="34.5" y2="108.10" stroke="#333" stroke-width="1.05"/>
<text x="29.0" y="111.10" text-anchor="end" font-family="'Liberation Sans', Arial, Helvetica, sans-serif" font-size="6.8" fill="#3A3A3A">-5.0</text>
<line x1="31.3" y1="140.23" x2="34.5" y2="140.23" stroke="#333" stroke-width="1.05"/>
<text x="29.0" y="143.23" text-anchor="end" font-family="'Liberation Sans', Arial, Helvetica, sans-serif" font-size="6.8" fill="#3A3A3A">3</text>
<line x1="31.3" y1="165.55" x2="34.5" y2="165.55" stroke="#333" stroke-width="1.05"/>
<text x="29.0" y="168.55" text-anchor="end" font-family="'Liberation Sans', Arial, Helvetica, sans-serif" font-size="6.8" fill="#3A3A3A">0</text>
<line x1="31.3" y1="190.87" x2="34.5" y2="190.87" stroke="#333" stroke-width="1.05"/>
<text x="29.0" y="193.87" text-anchor="end" font-family="'Liberation Sans', Arial, Helvetica, sans-serif" font-size="6.8" fill="#3A3A3A">-3</text>
<line x1="31.3" y1="216.19" x2="34.5" y2="216.19" stroke="#333" stroke-width="1.05"/>
<text x="29.0" y="219.19" text-anchor="end" font-family="'Liberation Sans', Arial, Helvetica, sans-serif" font-size="6.8" fill="#3A3A3A">-6</text>
<line x1="31.3" y1="241.51" x2="34.5" y2="241.51" stroke="#333" stroke-width="1.05"/>
<text x="29.0" y="244.51" text-anchor="end" font-family="'Liberation Sans', Arial, Helvetica, sans-serif" font-size="6.8" fill="#3A3A3A">-9</text>
<line x1="31.3" y1="271.35" x2="34.5" y2="271.35" stroke="#333" stroke-width="1.05"/>
<text x="29.0" y="274.35" text-anchor="end" font-family="'Liberation Sans', Arial, Helvetica, sans-serif" font-size="6.8" fill="#3A3A3A">5.0</text>
<line x1="31.3" y1="300.27" x2="34.5" y2="300.27" stroke="#333" stroke-width="1.05"/>
<text x="29.0" y="303.27" text-anchor="end" font-family="'Liberation Sans', Arial, Helvetica, sans-serif" font-size="6.8" fill="#3A3A3A">2.5</text>
<line x1="31.3" y1="329.20" x2="34.5" y2="329.20" stroke="#333" stroke-width="1.05"/>
<text x="29.0" y="332.20" text-anchor="end" font-family="'Liberation Sans', Arial, Helvetica, sans-serif" font-size="6.8" fill="#3A3A3A">0.0</text>
<line x1="31.3" y1="358.12" x2="34.5" y2="358.12" stroke="#333" stroke-width="1.05"/>
<text x="29.0" y="361.12" text-anchor="end" font-family="'Liberation Sans', Arial, Helvetica, sans-serif" font-size="6.8" fill="#3A3A3A">-2.5</text>
<line x1="51.0" y1="358.85" x2="211.0" y2="358.85" stroke="#3A3A3A" stroke-width="1.6"/>
<line x1="101.45" y1="358.6" x2="101.45" y2="361.8" stroke="#333" stroke-width="1.05"/>
<text x="101.45" y="369.9" text-anchor="middle" font-family="'Liberation Sans', Arial, Helvetica, sans-serif" font-size="6.8" fill="#3A3A3A">0</text>
<line x1="155.23" y1="358.6" x2="155.23" y2="361.8" stroke="#333" stroke-width="1.05"/>
<text x="155.23" y="369.9" text-anchor="middle" font-family="'Liberation Sans', Arial, Helvetica, sans-serif" font-size="6.8" fill="#3A3A3A">10</text>
<line x1="209.01" y1="358.6" x2="209.01" y2="361.8" stroke="#333" stroke-width="1.05"/>
<text x="209.01" y="369.9" text-anchor="middle" font-family="'Liberation Sans', Arial, Helvetica, sans-serif" font-size="6.8" fill="#3A3A3A">20</text>
<line x1="217.0" y1="358.85" x2="377.0" y2="358.85" stroke="#3A3A3A" stroke-width="1.6"/>
<line x1="267.45" y1="358.6" x2="267.45" y2="361.8" stroke="#333" stroke-width="1.05"/>
<text x="267.45" y="369.9" text-anchor="middle" font-family="'Liberation Sans', Arial, Helvetica, sans-serif" font-size="6.8" fill="#3A3A3A">0</text>
<line x1="321.23" y1="358.6" x2="321.23" y2="361.8" stroke="#333" stroke-width="1.05"/>
<text x="321.23" y="369.9" text-anchor="middle" font-family="'Liberation Sans', Arial, Helvetica, sans-serif" font-size="6.8" fill="#3A3A3A">10</text>
<line x1="375.01" y1="358.6" x2="375.01" y2="361.8" stroke="#333" stroke-width="1.05"/>
<text x="375.01" y="369.9" text-anchor="middle" font-family="'Liberation Sans', Arial, Helvetica, sans-serif" font-size="6.8" fill="#3A3A3A">20</text>
<line x1="383.5" y1="358.85" x2="543.5" y2="358.85" stroke="#3A3A3A" stroke-width="1.6"/>
<line x1="433.90" y1="358.6" x2="433.90" y2="361.8" stroke="#333" stroke-width="1.05"/>
<text x="433.90" y="369.9" text-anchor="middle" font-family="'Liberation Sans', Arial, Helvetica, sans-serif" font-size="6.8" fill="#3A3A3A">0</text>
<line x1="487.68" y1="358.6" x2="487.68" y2="361.8" stroke="#333" stroke-width="1.05"/>
<text x="487.68" y="369.9" text-anchor="middle" font-family="'Liberation Sans', Arial, Helvetica, sans-serif" font-size="6.8" fill="#3A3A3A">10</text>
<line x1="541.46" y1="358.6" x2="541.46" y2="361.8" stroke="#333" stroke-width="1.05"/>
<text x="541.46" y="369.9" text-anchor="middle" font-family="'Liberation Sans', Arial, Helvetica, sans-serif" font-size="6.8" fill="#3A3A3A">20</text>
<text x="296.7" y="384.3" text-anchor="middle" font-family="'Liberation Sans', Arial, Helvetica, sans-serif" font-size="13.25" fill="#000">Quarters after policy adoption date</text>
<text transform="translate(11.8,191.2) rotate(-90)" x="0" y="0" text-anchor="middle" font-family="'Liberation Sans', Arial, Helvetica, sans-serif" font-size="10" fill="#000">ATT</text>
</svg>
</body></html>
